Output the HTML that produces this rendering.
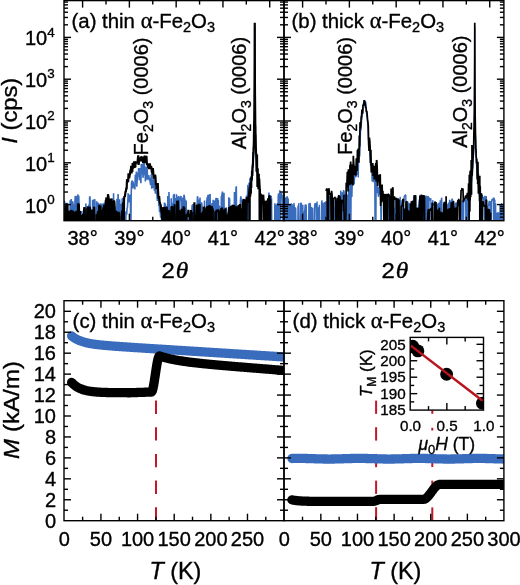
<!DOCTYPE html>
<html><head><meta charset="utf-8"><title>Figure</title>
<style>html,body{margin:0;padding:0;background:#fff;}svg{display:block;}</style>
</head><body>
<svg width="520" height="585" viewBox="0 0 520 585" font-family="'Liberation Sans', Arial, Helvetica, sans-serif">
<style>text{stroke:#000;stroke-width:0.35px;fill:#000;}</style>
<rect width="520" height="585" fill="#fff"/>
<defs>
<clipPath id="ca"><rect x="64" y="0.6" width="220" height="220.1"/></clipPath>
<clipPath id="cb"><rect x="284" y="0.6" width="219.9" height="220.1"/></clipPath>
<clipPath id="cc"><rect x="64" y="300.7" width="220" height="220"/></clipPath>
<clipPath id="cd"><rect x="284" y="300.7" width="219.9" height="220"/></clipPath>
<clipPath id="ci"><rect x="410.2" y="337.4" width="73.3" height="72.7"/></clipPath>
</defs>
<g clip-path="url(#ca)">
<polyline fill="none" stroke="#3a6cbe" stroke-width="1.6" stroke-linejoin="miter" stroke-miterlimit="2" points="61.55,208.1 61.92,210.91 62.3,206.9 62.67,240 63.05,240 63.42,208.97 63.79,208.2 64.17,200.76 64.54,201.56 64.92,206.91 65.29,240 65.67,202.92 66.04,240 66.41,240 66.79,202.88 67.16,213.32 67.54,214.27 67.91,240 68.29,240 68.66,240 69.03,209.9 69.41,211.73 69.78,240 70.16,200.33 70.53,240 70.91,240 71.28,198.96 71.65,240 72.03,240 72.4,240 72.78,201.33 73.15,206.61 73.52,206.39 73.9,204.18 74.27,240 74.65,240 75.02,199.29 75.4,195.87 75.77,240 76.14,240 76.52,200.17 76.89,196.02 77.27,240 77.64,196.92 78.02,194.48 78.39,240 78.76,195.82 79.14,210.57 79.51,240 79.89,240 80.26,240 80.64,211.38 81.01,213.98 81.38,216.59 81.76,211.05 82.13,240 82.51,213.87 82.88,240 83.25,215.88 83.63,240 84,240 84.38,213.87 84.75,214.07 85.13,240 85.5,240 85.87,203.46 86.25,240 86.62,240 87,240 87.37,205.97 87.75,240 88.12,207.17 88.49,240 88.87,204.59 89.24,240 89.62,196.48 89.99,197.01 90.37,240 90.74,240 91.11,213.19 91.49,240 91.86,213.45 92.24,240 92.61,199.81 92.99,240 93.36,200.53 93.73,200.35 94.11,240 94.48,199.3 94.86,199.99 95.23,240 95.6,240 95.98,240 96.35,240 96.73,201.38 97.1,240 97.48,202.71 97.85,203.22 98.22,204.35 98.6,204.14 98.97,205.09 99.35,240 99.72,204.47 100.1,240 100.47,203.44 100.84,204.69 101.22,205.75 101.59,205.87 101.97,240 102.34,203.54 102.72,240 103.09,240 103.46,240 103.84,204.71 104.21,202.8 104.59,240 104.96,240 105.34,240 105.71,240 106.08,240 106.46,210.44 106.83,240 107.21,240 107.58,240 107.95,208.79 108.33,240 108.7,240 109.08,240 109.45,209.57 109.83,240 110.2,211.98 110.57,240 110.95,205.86 111.32,240 111.7,210.37 112.07,212.09 112.45,209.31 112.82,240 113.19,240 113.57,193.38 113.94,240 114.32,240 114.69,206.86 115.07,240 115.44,240 115.81,240 116.19,240 116.56,240 116.94,198.74 117.31,240 117.69,240 118.06,194.03 118.43,201.89 118.81,201.72 119.18,240 119.56,199.38 119.93,204.99 120.3,240 120.68,203.96 121.05,240 121.43,204.65 121.8,240 122.18,199.73 122.55,197.94 122.92,238.97 123.3,240 123.67,232.18 124.05,232.34 124.42,223.75 124.8,226.61 125.17,222.49 125.54,240 125.92,211.57 126.29,211.81 126.67,214.6 127.04,208.41 127.42,207.6 127.79,201.18 128.16,193.31 128.54,199.22 128.91,201.64 129.29,201.92 129.66,195.75 130.03,194.92 130.41,198.3 130.78,240 131.16,196.24 131.53,182.97 131.91,181.85 132.28,180.48 132.65,188.47 133.03,181.71 133.4,184.49 133.78,185.05 134.15,183.87 134.53,188.59 134.9,188.61 135.27,174.83 135.65,179.82 136.02,176.75 136.4,171.52 136.77,186.77 137.15,180.66 137.52,174.53 137.89,172.75 138.27,176.73 138.64,168.1 139.02,172.44 139.39,180.33 139.77,178.33 140.14,167.93 140.51,169.64 140.89,183.12 141.26,164.04 141.64,168.22 142.01,163.74 142.38,173.67 142.76,173.08 143.13,177.86 143.51,156.57 143.88,172.36 144.26,162.17 144.63,175.25 145,170.66 145.38,181.49 145.75,174.2 146.13,166.49 146.5,179.74 146.88,166.54 147.25,171.14 147.62,179.53 148,176.78 148.37,176.97 148.75,175.06 149.12,178.39 149.5,180.63 149.87,178.17 150.24,182.98 150.62,185.15 150.99,178.63 151.37,173.94 151.74,188.71 152.12,180.61 152.49,185.24 152.86,188.01 153.24,178.29 153.61,187.21 153.99,176.5 154.36,190.77 154.73,185.08 155.11,189.7 155.48,193.64 155.86,187.81 156.23,192.85 156.61,190.56 156.98,194.99 157.35,200.91 157.73,198.12 158.1,199.04 158.48,197.21 158.85,205.86 159.23,204.47 159.6,211.97 159.97,206.06 160.35,213.57 160.72,217.79 161.1,214.94 161.47,214.25 161.85,240 162.22,225.78 162.59,240 162.97,232.76 163.34,233.54 163.72,240 164.09,240 164.47,202.42 164.84,240 165.21,203.64 165.59,206.51 165.96,240 166.34,240 166.71,206.1 167.08,240 167.46,240 167.83,196.02 168.21,240 168.58,240 168.96,192.06 169.33,212.01 169.7,213.07 170.08,240 170.45,240 170.83,240 171.2,198.26 171.58,240 171.95,202.77 172.32,205.24 172.7,240 173.07,240 173.45,194.87 173.82,240 174.2,193.82 174.57,240 174.94,240 175.32,240 175.69,197.94 176.07,240 176.44,194.27 176.81,196.76 177.19,197.72 177.56,240 177.94,240 178.31,240 178.69,196.11 179.06,200.11 179.43,240 179.81,200.05 180.18,200 180.56,197.28 180.93,196.11 181.31,200.2 181.68,201.48 182.05,240 182.43,240 182.8,197.45 183.18,240 183.55,240 183.93,194.69 184.3,196.14 184.67,199.4 185.05,200.28 185.42,240 185.8,201.84 186.17,200.39 186.55,240 186.92,240 187.29,240 187.67,216.57 188.04,240 188.42,240 188.79,215.04 189.16,214.38 189.54,218.01 189.91,213.58 190.29,240 190.66,240 191.04,210.67 191.41,240 191.78,211.8 192.16,205 192.53,205.58 192.91,204.26 193.28,240 193.66,240 194.03,204.15 194.4,240 194.78,205.34 195.15,240 195.53,213.18 195.9,240 196.28,240 196.65,209.19 197.02,208.98 197.4,197.23 197.77,196.42 198.15,240 198.52,240 198.9,199.43 199.27,202.96 199.64,240 200.02,197.45 200.39,240 200.77,240 201.14,203.04 201.51,202.46 201.89,204.69 202.26,209.58 202.64,240 203.01,207.44 203.39,240 203.76,240 204.13,240 204.51,200.58 204.88,240 205.26,240 205.63,240 206.01,240 206.38,240 206.75,202.39 207.13,197.27 207.5,240 207.88,195.02 208.25,195.61 208.63,240 209,197.41 209.37,240 209.75,194.32 210.12,194.62 210.5,240 210.87,203.48 211.25,204.93 211.62,203.54 211.99,206.35 212.37,203.13 212.74,240 213.12,199.85 213.49,240 213.86,203.23 214.24,200.48 214.61,240 214.99,240 215.36,204.36 215.74,200.4 216.11,197.85 216.48,240 216.86,200.93 217.23,240 217.61,198.11 217.98,205.38 218.36,199.92 218.73,240 219.1,240 219.48,205.86 219.85,240 220.23,208.7 220.6,240 220.98,240 221.35,196.8 221.72,195.75 222.1,193.78 222.47,191.59 222.85,240 223.22,195.74 223.59,240 223.97,192.82 224.34,240 224.72,240 225.09,211.15 225.47,209.49 225.84,209.5 226.21,207.42 226.59,210.62 226.96,240 227.34,214.66 227.71,240 228.09,214.06 228.46,240 228.83,197.15 229.21,240 229.58,198.26 229.96,240 230.33,240 230.71,240 231.08,210.01 231.45,214.21 231.83,240 232.2,240 232.58,209.97 232.95,240 233.33,207.81 233.7,240 234.07,240 234.45,192.06 234.82,240 235.2,240 235.57,240 235.94,188.57 236.32,186.31 236.69,240 237.07,210.98 237.44,240 237.82,207.51 238.19,211.02 238.56,240 238.94,210.2 239.31,209.3 239.69,240 240.06,240 240.44,201.17 240.81,196.3 241.18,199.44 241.56,201.86 241.93,200.88 242.31,199.75 242.68,201.79 243.06,240 243.43,209.79 243.8,208.17 244.18,209.41 244.55,240 244.93,199.49 245.3,240 245.68,199.59 246.05,198.83 246.42,195.88 246.8,240 247.17,199.58 247.55,194.09 247.92,184.73 248.29,240 248.67,191.2 249.04,187.47 249.14,182.52 249.28,240 249.42,190.18 249.42,184.47 249.56,186.59 249.7,185.41 249.79,189.6 249.84,179.99 249.98,178.07 250.12,182.09 250.17,181.41 250.26,183.91 250.4,183.36 250.54,182.79 250.54,182.79 250.68,182.17 250.82,181.52 250.91,181.06 250.96,180.82 251.1,180.08 251.24,179.29 251.29,179.01 251.38,178.44 251.52,177.54 251.66,176.57 251.66,176.57 251.8,175.53 251.94,174.41 252.04,173.62 252.08,173.21 252.22,171.92 252.36,173.58 252.41,173 252.5,171.8 252.65,169.91 252.79,167.87 252.79,167.87 252.93,165.68 253.07,163.29 253.16,161.59 253.21,160.69 253.35,157.82 253.49,154.62 253.53,153.46 253.63,151 253.77,146.83 253.91,141.93 253.91,141.93 254.05,135.59 254.19,128.29 254.28,122.16 254.33,118.57 254.47,104.51 254.61,80.41 254.66,66.88 254.75,26.72 254.75,26.72 254.89,80.41 255.03,104.51 255.03,104.51 255.17,118.57 255.31,128.29 255.41,133.36 255.45,135.59 255.59,141.36 255.73,146.08 255.78,147.48 255.87,150.06 256.01,153.48 256.15,157.27 256.15,157.27 256.29,160.05 256.43,162.56 256.53,164.1 256.57,164.84 256.72,166.93 256.86,168.86 256.9,169.46 257,170.64 257.14,172.29 257.28,173.84 257.28,173.84 257.42,175.28 257.56,176.63 257.65,177.48 257.7,177.89 257.84,179.08 257.98,180.2 258.03,180.56 258.12,181.25 258.26,182.24 258.4,183.18 258.4,183.18 258.54,184.06 258.68,183.21 258.77,183.7 258.82,183.93 258.96,184.61 259.1,185.25 259.15,185.45 259.24,185.85 259.38,183.56 259.52,187.41 259.52,185.54 259.66,187.06 259.8,185.56 259.9,192.68 259.94,188.44 260.08,192.04 260.22,192.73 260.27,192.85 260.64,240 261.02,197.28 261.39,198.59 261.77,198.1 262.14,203.46 262.52,195.74 262.89,197.22 263.26,201.24 263.64,202.94 264.01,199.6 264.39,240 264.76,240 265.14,240 265.51,205.84 265.88,203.27 266.26,206.63 266.63,240 267.01,240 267.38,199.69 267.76,208.21 268.13,240 268.5,240 268.88,192.5 269.25,196.94 269.63,195.52 270,240 270.37,196.75 270.75,196.76 271.12,195.75 271.5,199.37 271.87,240 272.25,240 272.62,240 272.99,240 273.37,240 273.74,240 274.12,240 274.49,240 274.87,203.38 275.24,240 275.61,240 275.99,204.59 276.36,205.89 276.74,240 277.11,240 277.49,203.04 277.86,240 278.23,196.37 278.61,193.39 278.98,240 279.36,240 279.73,190.19 280.11,240 280.48,196.51 280.85,195.65 281.23,194.8 281.6,192.96 281.98,196.54 282.35,203.06 282.72,240 283.1,240 283.47,195.34 283.85,240 284.22,194.93 284.6,193.9 284.97,240 285.34,240 285.72,240 286.09,240"/>
<polyline fill="none" stroke="#000" stroke-width="2.2" stroke-linejoin="miter" stroke-miterlimit="2" points="61.55,215.14 61.92,240 62.3,240 62.67,213.68 63.05,216.81 63.42,216.68 63.79,216.24 64.17,217 64.54,214.75 64.92,240 65.29,240 65.67,206.34 66.04,240 66.41,203.45 66.79,240 67.16,203.4 67.54,205.46 67.91,240 68.29,213.38 68.66,213.41 69.03,210.97 69.41,240 69.78,240 70.16,211.89 70.53,212.62 70.91,211.16 71.28,210.13 71.65,240 72.03,213.21 72.4,211.59 72.78,210.57 73.15,240 73.52,212.75 73.9,240 74.27,211.82 74.65,213.09 75.02,212.35 75.4,240 75.77,240 76.14,240 76.52,210.79 76.89,240 77.27,240 77.64,240 78.02,203.66 78.39,204.11 78.76,203.53 79.14,212.52 79.51,212.93 79.89,211.02 80.26,240 80.64,240 81.01,214.91 81.38,240 81.76,216.27 82.13,240 82.51,217.3 82.88,240 83.25,240 83.63,240 84,210.31 84.38,207.2 84.75,209.17 85.13,240 85.5,240 85.87,216.03 86.25,217.52 86.62,214.07 87,216.83 87.37,207.72 87.75,240 88.12,206.53 88.49,240 88.87,206.94 89.24,240 89.62,206.83 89.99,208.74 90.37,212.33 90.74,240 91.11,211.64 91.49,211.85 91.86,209.68 92.24,211.59 92.61,212.79 92.99,240 93.36,240 93.73,240 94.11,206.74 94.48,240 94.86,240 95.23,240 95.6,240 95.98,240 96.35,240 96.73,214.03 97.1,240 97.48,240 97.85,212.23 98.22,211.63 98.6,213.19 98.97,211.33 99.35,204.73 99.72,240 100.1,240 100.47,205.68 100.84,240 101.22,212.63 101.59,240 101.97,240 102.34,209.99 102.72,240 103.09,210.65 103.46,207.41 103.84,240 104.21,204.82 104.59,240 104.96,240 105.34,240 105.71,201.09 106.08,200.38 106.46,197.48 106.83,240 107.21,240 107.58,240 107.95,194.28 108.33,196.12 108.7,198.33 109.08,200.94 109.45,199.28 109.83,240 110.2,201.69 110.57,198.86 110.95,202.98 111.32,205.16 111.7,198.43 112.07,240 112.45,240 112.82,240 113.19,240 113.57,202.2 113.94,201.24 114.32,201.46 114.69,207.25 115.07,240 115.44,240 115.81,210.41 116.19,240 116.56,211.33 116.94,240 117.31,214.02 117.69,240 118.06,240 118.43,212.3 118.81,212.69 119.18,240 119.56,240 119.93,240 120.3,226.23 120.68,240 121.05,240 121.43,216.63 121.8,213.31 122.18,210.53 122.55,240 122.92,203.43 123.3,202.82 123.67,240 124.05,199.35 124.42,196.1 124.8,196.96 125.17,194.34 125.54,191.55 125.92,191.26 126.29,188.49 126.67,188.39 127.04,179.31 127.42,179.84 127.79,181.01 128.16,181.13 128.54,173.33 128.91,177.51 129.29,177.5 129.66,175.21 130.03,174.08 130.41,169.8 130.78,172.91 131.16,165.76 131.53,173.46 131.91,167.96 132.28,171.99 132.65,162.96 133.03,168.38 133.4,166.81 133.78,163.22 134.15,161.55 134.53,167.75 134.9,164.89 135.27,167.34 135.65,162.32 136.02,162.48 136.4,162.7 136.77,163.21 137.15,161.91 137.52,162.56 137.89,158.49 138.27,155.3 138.64,165.01 139.02,159.48 139.39,160.13 139.77,157.29 140.14,161.32 140.51,158.85 140.89,161.35 141.26,156.24 141.64,157.95 142.01,158.71 142.38,157.2 142.76,159.07 143.13,162.97 143.51,156.86 143.88,157.93 144.26,159.41 144.63,156.34 145,155.94 145.38,162.95 145.75,162.39 146.13,156 146.5,156.77 146.88,163.48 147.25,165.24 147.62,164.17 148,164.3 148.37,168.03 148.75,163.95 149.12,168.41 149.5,168.88 149.87,163.42 150.24,168.82 150.62,167.83 150.99,166.61 151.37,166.94 151.74,171.17 152.12,171 152.49,174.49 152.86,168.03 153.24,172.26 153.61,178.44 153.99,176.35 154.36,175.46 154.73,177.35 155.11,174.69 155.48,177.31 155.86,184.21 156.23,184.3 156.61,189.21 156.98,186.26 157.35,188.12 157.73,183.06 158.1,191.59 158.48,198.48 158.85,196.88 159.23,197.05 159.6,201.77 159.97,203 160.35,204.21 160.72,205.31 161.1,208.63 161.47,212.38 161.85,212.75 162.22,217.77 162.59,240 162.97,240 163.34,207.04 163.72,240 164.09,210.69 164.47,210.35 164.84,206.96 165.21,240 165.59,207.64 165.96,209.03 166.34,240 166.71,206.76 167.08,240 167.46,240 167.83,240 168.21,240 168.58,210.1 168.96,211.55 169.33,240 169.7,240 170.08,212.04 170.45,240 170.83,240 171.2,213.4 171.58,206.91 171.95,206.52 172.32,209.04 172.7,240 173.07,240 173.45,208.54 173.82,206.91 174.2,240 174.57,204.33 174.94,240 175.32,240 175.69,240 176.07,240 176.44,240 176.81,240 177.19,200.68 177.56,240 177.94,200.47 178.31,212.27 178.69,210.11 179.06,240 179.43,210.99 179.81,240 180.18,211.31 180.56,210.31 180.93,240 181.31,240 181.68,208.81 182.05,240 182.43,209.24 182.8,240 183.18,240 183.55,206.34 183.93,208.5 184.3,207.82 184.67,240 185.05,240 185.42,216.93 185.8,240 186.17,240 186.55,215.6 186.92,215.68 187.29,216.37 187.67,212.79 188.04,213.17 188.42,209.84 188.79,217.06 189.16,214.09 189.54,215.07 189.91,216.05 190.29,240 190.66,240 191.04,209.96 191.41,240 191.78,212.03 192.16,240 192.53,240 192.91,240 193.28,240 193.66,240 194.03,240 194.4,202.25 194.78,240 195.15,240 195.53,215.74 195.9,215.75 196.28,240 196.65,240 197.02,204.4 197.4,240 197.77,240 198.15,215.64 198.52,214.51 198.9,240 199.27,204.67 199.64,204.28 200.02,240 200.39,240 200.77,240 201.14,213.04 201.51,240 201.89,240 202.26,240 202.64,212.39 203.01,211.83 203.39,240 203.76,206.9 204.13,207.36 204.51,240 204.88,208.22 205.26,240 205.63,209.25 206.01,240 206.38,240 206.75,208.05 207.13,206.42 207.5,206.9 207.88,210.5 208.25,240 208.63,240 209,240 209.37,205.01 209.75,208.11 210.12,240 210.5,240 210.87,207.19 211.25,240 211.62,206.2 211.99,208.54 212.37,240 212.74,208.47 213.12,240 213.49,240 213.86,240 214.24,240 214.61,240 214.99,240 215.36,211.36 215.74,240 216.11,212.62 216.48,210.78 216.86,210.62 217.23,210.66 217.61,210.74 217.98,209.63 218.36,210.68 218.73,210.28 219.1,240 219.48,240 219.85,240 220.23,240 220.6,240 220.98,211.36 221.35,208.24 221.72,240 222.1,207.59 222.47,240 222.85,210.44 223.22,212.47 223.59,209.41 223.97,240 224.34,211.11 224.72,240 225.09,240 225.47,208.19 225.84,240 226.21,240 226.59,214.54 226.96,240 227.34,214.55 227.71,215.17 228.09,240 228.46,212.15 228.83,213.41 229.21,207.03 229.58,208.39 229.96,208.13 230.33,240 230.71,205.77 231.08,207.31 231.45,240 231.83,240 232.2,240 232.58,204.79 232.95,206.98 233.33,240 233.7,206.99 234.07,205.11 234.45,214.07 234.82,240 235.2,214.26 235.57,214.17 235.94,240 236.32,206.2 236.69,240 237.07,207.75 237.44,240 237.82,206.41 238.19,240 238.56,205.19 238.94,205.58 239.31,240 239.69,240 240.06,203.9 240.44,240 240.81,240 241.18,240 241.56,208.46 241.93,209 242.31,240 242.68,201.97 243.06,205.02 243.43,200.38 243.8,199.01 244.18,240 244.55,240 244.93,207.46 245.3,205.15 245.68,205.43 246.05,199.93 246.42,240 246.8,198.98 247.17,197.23 247.55,202.92 247.92,197.85 248.29,198.82 248.67,195.72 249.04,195.67 249.14,191.41 249.28,195.76 249.42,188.31 249.42,191.64 249.56,240 249.7,192.19 249.79,193.49 249.84,186.41 249.98,191.56 250.12,187.68 250.17,191.15 250.26,196.54 250.4,182.65 250.54,192.45 250.54,182.99 250.68,183.45 250.82,193.77 250.91,189.22 250.96,186.52 251.1,187.12 251.24,187.95 251.29,177.1 251.38,181.64 251.52,176.99 251.66,180.13 251.66,176.12 251.8,180.5 251.94,175.1 252.04,170.78 252.08,173.18 252.22,174.3 252.36,176.01 252.41,168.58 252.5,166.39 252.65,167.72 252.79,163.95 252.79,165.16 252.93,165.08 253.07,158.44 253.16,158.59 253.21,153.95 253.35,154.02 253.49,151.63 253.53,149.11 253.63,147.5 253.77,144.77 253.91,139.08 253.91,135.74 254.05,130.1 254.19,120.79 254.28,123.23 254.33,115.83 254.47,101.75 254.61,75.88 254.66,64.16 254.75,22.67 254.75,22.67 254.89,75.86 255.03,103.93 255.03,96.67 255.17,111.79 255.31,126.2 255.41,127.28 255.45,134.11 255.59,134.64 255.73,143.46 255.78,146.62 255.87,148.09 256.01,152.86 256.15,153.3 256.15,153.35 256.29,156.64 256.43,160.98 256.53,171.62 256.57,161.49 256.72,169.48 256.86,170.22 256.9,163.73 257,154.43 257.14,171.38 257.28,169.58 257.28,169.36 257.42,186.98 257.56,173.82 257.65,179.29 257.7,168.37 257.84,178.63 257.98,182.75 258.03,180.11 258.12,178.81 258.26,183.91 258.4,182.23 258.4,189.32 258.54,184.21 258.68,179.75 258.77,173.88 258.82,181.07 258.96,184.33 259.1,180.23 259.15,181.4 259.24,178.44 259.38,182.39 259.52,189.68 259.52,187.63 259.66,240 259.8,188.8 259.9,189.8 259.94,195.37 260.08,203.2 260.22,196.01 260.27,203.58 260.64,193.67 261.02,195.35 261.39,240 261.77,198.19 262.14,200.9 262.52,196.08 262.89,196.48 263.26,194.81 263.64,202.74 264.01,205.46 264.39,240 264.76,240 265.14,202.08 265.51,201.92 265.88,240 266.26,201.62 266.63,201.96 267.01,202.69 267.38,240 267.76,240 268.13,198.35 268.5,240 268.88,240 269.25,195.63 269.63,196.13 270,240 270.37,199.19"/>
</g>
<g clip-path="url(#cb)">
<polyline fill="none" stroke="#3a6cbe" stroke-width="1.4" stroke-linejoin="miter" stroke-miterlimit="2" points="281.55,240 281.92,240 282.3,240 282.67,240 283.05,240 283.42,240 283.79,197.81 284.17,240 284.54,240 284.92,240 285.29,240 285.67,197.49 286.04,240 286.41,196.68 286.79,240 287.16,196.36 287.54,197.9 287.91,240 288.29,198.56 288.66,240 289.03,240 289.41,240 289.78,205 290.16,240 290.53,205 290.91,240 291.28,203.33 291.65,240 292.03,204.21 292.4,206.25 292.78,205.12 293.15,240 293.52,240 293.9,202.96 294.27,205.84 294.65,240 295.02,209.3 295.4,207.36 295.77,208.73 296.14,240 296.52,240 296.89,240 297.27,240 297.64,240 298.02,205.39 298.39,240 298.76,203.01 299.14,240 299.51,240 299.89,240 300.26,240 300.64,202.83 301.01,203.95 301.38,203.76 301.76,240 302.13,240 302.51,204.98 302.88,205.31 303.25,240 303.63,211.81 304,240 304.38,212.25 304.75,210.26 305.13,205.06 305.5,205.01 305.87,240 306.25,204.75 306.62,240 307,240 307.37,240 307.75,240 308.12,240 308.49,240 308.87,204 309.24,204.08 309.62,240 309.99,202.83 310.37,204.3 310.74,240 311.11,207.83 311.49,207.69 311.86,240 312.24,240 312.61,207.72 312.99,240 313.36,240 313.73,240 314.11,240 314.48,208.63 314.86,203.34 315.23,204.24 315.6,204.57 315.98,203.2 316.35,240 316.73,205.21 317.1,201.61 317.48,240 317.85,240 318.22,240 318.6,207.06 318.97,240 319.35,204.76 319.72,240 320.1,240 320.47,240 320.84,240 321.22,240 321.59,202.51 321.97,200.35 322.34,240 322.72,202.84 323.09,240 323.46,240 323.84,240 324.21,202.17 324.59,240 324.96,202.03 325.34,240 325.71,201.31 326.08,240 326.46,201.95 326.83,203.41 327.21,240 327.58,195.18 327.95,195.81 328.33,240 328.7,196.19 329.08,240 329.45,240 329.83,195.57 330.2,201.18 330.57,201.81 330.95,200.06 331.32,200.9 331.7,240 332.07,201.47 332.45,200.99 332.82,202.17 333.19,206.42 333.57,207.86 333.94,240 334.32,206.61 334.69,240 335.07,200.45 335.44,199.12 335.81,240 336.19,199.36 336.56,240 336.94,240 337.31,205.35 337.69,204.12 338.06,207.5 338.43,204.46 338.81,206.48 339.18,202.94 339.56,240 339.93,240 340.3,240 340.68,190.59 341.05,194.18 341.43,192.24 341.8,240 342.18,194.44 342.55,192.36 342.92,240 343.3,191.82 343.67,190.09 344.05,191.69 344.42,195.99 344.8,196.26 345.17,194.94 345.54,240 345.92,194.28 346.29,194.19 346.67,197.57 347.04,200.54 347.42,194.5 347.79,240 348.16,240 348.54,189.22 348.91,240 349.29,193.77 349.66,198.39 350.03,176.73 350.41,187.4 350.78,240 351.16,190.37 351.53,180.32 351.91,196.99 352.28,184.77 352.65,170.86 353.03,184.32 353.4,181.47 353.78,177.18 354.15,184.49 354.53,179.13 354.9,173.15 355.27,176.39 355.65,174.41 356.02,177.21 356.4,174.14 356.77,173.95 357.15,164.45 357.52,166.17 357.89,168.7 358.27,177.39 358.64,156.25 359.02,151.55 359.39,155.73 359.77,156.42 360.14,146.43 360.51,129.91 360.89,130.72 361.26,126.33 361.64,119.78 362.01,118.86 362.38,113.83 362.76,110.3 363.13,103.69 363.51,104.11 363.88,103.89 364.26,101.28 364.63,101.54 365,100.35 365.38,103.3 365.75,101.78 366.13,105.53 366.5,112.33 366.88,116.83 367.25,117.23 367.62,122.58 368,128.96 368.37,139.54 368.75,141.49 369.12,143.01 369.5,142.79 369.87,154.57 370.24,159.62 370.62,166.13 370.99,157.72 371.37,163.68 371.74,172.37 372.12,181.42 372.49,179.78 372.86,173.76 373.24,182.13 373.61,174.51 373.99,178.48 374.36,179.87 374.73,178.85 375.11,240 375.48,188.82 375.86,240 376.23,172.99 376.61,193.04 376.98,189.73 377.35,182 377.73,189.3 378.1,193.45 378.48,196.8 378.85,187.22 379.23,188.37 379.6,186.9 379.97,194.79 380.35,189.94 380.72,201.78 381.1,240 381.47,200.84 381.85,196.67 382.22,193.97 382.59,192.67 382.97,199.46 383.34,198.83 383.72,196.67 384.09,200.26 384.47,198.86 384.84,240 385.21,196.36 385.59,196.05 385.96,197.12 386.34,198.71 386.71,240 387.08,197.05 387.46,199.11 387.83,197.55 388.21,196.59 388.58,240 388.96,240 389.33,199.92 389.7,200.87 390.08,240 390.45,240 390.83,240 391.2,200.54 391.58,206.74 391.95,205.43 392.32,240 392.7,240 393.07,205.87 393.45,240 393.82,240 394.2,207.71 394.57,240 394.94,240 395.32,200.58 395.69,201.16 396.07,240 396.44,201.84 396.81,200.33 397.19,201.28 397.56,240 397.94,240 398.31,198.47 398.69,240 399.06,199.01 399.43,199.35 399.81,240 400.18,196.75 400.56,240 400.93,200.36 401.31,240 401.68,240 402.05,240 402.43,202.82 402.8,240 403.18,201.95 403.55,201.57 403.93,201.65 404.3,195.67 404.67,195.92 405.05,195.6 405.42,195.05 405.8,195.31 406.17,240 406.55,240 406.92,240 407.29,240 407.67,240 408.04,201.84 408.42,240 408.79,203.2 409.16,240 409.54,203.4 409.91,204.26 410.29,240 410.66,205.68 411.04,240 411.41,240 411.78,207.04 412.16,240 412.53,203.95 412.91,240 413.28,240 413.66,196.8 414.03,195.91 414.4,195.9 414.78,240 415.15,196.21 415.53,240 415.9,195.84 416.28,240 416.65,207.85 417.02,209.1 417.4,240 417.77,240 418.15,240 418.52,205.15 418.9,203.64 419.27,199.46 419.64,200.74 420.02,240 420.39,200.5 420.77,240 421.14,240 421.51,240 421.89,205.51 422.26,240 422.64,203 423.01,204.51 423.39,203.74 423.76,240 424.13,201.95 424.51,203 424.88,240 425.26,198.02 425.63,197.8 426.01,195.6 426.38,240 426.75,240 427.13,196.38 427.5,240 427.88,195.95 428.25,196.71 428.63,240 429,197.42 429.37,199.35 429.75,200.58 430.12,198.92 430.5,198.75 430.87,198.97 431.25,240 431.62,240 431.99,202.62 432.37,240 432.74,200.19 433.12,204.03 433.49,204.42 433.86,205.53 434.24,204.68 434.61,203.48 434.99,202.72 435.36,204.77 435.74,240 436.11,240 436.48,205.04 436.86,240 437.23,204.11 437.61,240 437.98,203.17 438.36,240 438.73,205.6 439.1,202.6 439.48,204.44 439.85,240 440.23,200.32 440.6,201.52 440.98,240 441.35,199.01 441.72,197.83 442.1,210.14 442.47,240 442.85,212.09 443.22,212.37 443.59,240 443.97,212.66 444.34,212.09 444.72,214.36 445.09,240 445.47,211.8 445.84,201.48 446.21,240 446.59,204.52 446.96,240 447.34,205.25 447.71,204.6 448.09,205.87 448.46,202.51 448.83,240 449.21,240 449.58,199.81 449.96,240 450.33,240 450.71,240 451.08,200.54 451.45,240 451.83,199.53 452.2,198.66 452.58,200.42 452.95,208.82 453.33,206.46 453.7,240 454.07,240 454.45,207.23 454.82,206.52 455.2,205.56 455.57,202.65 455.94,240 456.32,240 456.69,203.91 457.07,202.44 457.44,240 457.82,240 458.19,240 458.56,240 458.94,240 459.31,240 459.69,240 460.06,240 460.44,240 460.81,240 461.18,240 461.56,201.29 461.93,203.25 462.31,200.29 462.68,202.47 463.06,240 463.43,240 463.8,197.6 464.18,198.98 464.55,201.01 464.93,199.65 465.3,199.95 465.68,201.82 466.05,240 466.42,194.39 466.8,240 467.17,193.21 467.55,194.51 467.92,194.2 468.29,240 468.67,196.61 469.04,189.42 469.14,198.55 469.28,201 469.42,195.77 469.42,202.8 469.56,194.21 469.7,192.03 469.79,194.26 469.84,190.03 469.98,193.98 470.12,191.52 470.17,199.14 470.26,190.79 470.4,190 470.54,189.18 470.54,189.18 470.68,188.31 470.82,187.4 470.91,186.77 470.96,186.44 471.1,185.44 471.24,184.38 471.29,184.02 471.38,183.27 471.52,182.1 471.66,180.86 471.66,180.86 471.8,179.56 471.94,178.18 472.04,177.21 472.08,176.71 472.22,175.16 472.36,173.5 472.41,172.93 472.5,171.74 472.65,169.85 472.79,166.99 472.79,166.99 472.93,164.89 473.07,162.6 473.16,160.95 473.21,160.09 473.35,157.3 473.49,154.18 473.53,153.06 473.63,150.64 473.77,146.55 473.91,141.71 473.91,141.71 474.05,135.84 474.19,128.46 474.28,122.28 474.33,118.67 474.47,104.56 474.61,80.42 474.66,66.89 474.75,26.72 474.75,26.72 474.89,80.42 475.03,104.56 475.03,104.56 475.17,118.67 475.31,128.46 475.41,133.58 475.45,135.84 475.59,141.71 475.73,146.55 475.78,147.98 475.87,150.64 476.01,154.19 476.15,157.31 476.15,157.31 476.29,160.09 476.43,162.6 476.53,164.15 476.57,164.89 476.72,166.99 476.86,168.92 476.9,169.54 477,170.72 477.14,172.38 477.28,173.93 477.28,173.93 477.42,175.38 477.56,176.74 477.65,177.59 477.7,178.01 477.84,179.21 477.98,181.36 478.03,181.74 478.12,182.48 478.26,183.54 478.4,184.55 478.4,184.55 478.54,185.51 478.68,186.41 478.77,186.99 478.82,187.28 478.96,188.09 479.1,188.87 479.15,189.12 479.24,189.61 479.38,194.94 479.52,189.48 479.52,196.37 479.66,187.68 479.8,195.11 479.9,187.41 479.94,185.41 480.08,204.45 480.22,192.32 480.27,197.89 480.64,203.06 481.02,199.89 481.39,193.32 481.77,196.65 482.14,194.85 482.52,196.79 482.89,197.87 483.26,197.83 483.64,200.62 484.01,200.24 484.39,240 484.76,195.86 485.14,240 485.51,197.23 485.88,240 486.26,195.91 486.63,203.99 487.01,240 487.38,205.78 487.76,240 488.13,205.4 488.5,206.26 488.88,202.94 489.25,200.76 489.63,202.87 490,203.79 490.37,240 490.75,201.05 491.12,240 491.5,201.88 491.87,199.67 492.25,199.79 492.62,200.05 492.99,199.55 493.37,197.57 493.74,240 494.12,197.88 494.49,200.62 494.87,199.88 495.24,240 495.61,203.24 495.99,240 496.36,240 496.74,240 497.11,212.76 497.49,240 497.86,212.06 498.23,240 498.61,240 498.98,212.48 499.36,240 499.73,240 500.11,204.57 500.48,240 500.85,205.05 501.23,240 501.6,203.13 501.98,205.4 502.35,206.25 502.72,240 503.1,205.63 503.47,240 503.85,240 504.22,205.37 504.6,203.71 504.97,205.27 505.34,203.14 505.72,240 506.09,240"/>
<polyline fill="none" stroke="#000" stroke-width="1.7" stroke-linejoin="miter" stroke-miterlimit="2" points="325.99,189.5 326.36,190.76 326.74,188.51 327.11,189.94 327.49,240 327.86,189.6 328.24,240 328.61,188.63 328.98,188.85 329.36,192.84 329.73,193.36 330.11,194.57 330.48,193.92 330.86,192.88 331.23,240 331.6,190.8 331.98,193.71 332.35,199.71 332.73,197.94 333.1,240 333.47,198.84 333.85,198.91 334.22,198.15 334.6,197.61 334.97,197.55 335.35,198.47 335.72,197.59 336.09,240 336.47,240 336.84,200.72 337.22,240 337.59,198.06 337.97,240 338.34,196.72 338.71,195.75 339.09,195.88 339.46,240 339.84,196.12 340.21,200.67 340.59,202.97 340.96,240 341.33,199.88 341.71,200.91 342.08,203.31 342.46,200.16 342.83,200.68 343.21,199.98 343.58,211.57 343.95,194.83 344.33,240 344.7,240 345.08,240 345.45,240 345.82,240 346.2,182.85 346.57,187.08 346.95,182.94 347.32,171.95 347.7,172.36 348.07,191.48 348.44,169.26 348.82,173.22 349.19,176.44 349.57,185.31 349.94,165.67 350.32,165.58 350.69,161.58 351.06,184.48 351.44,177.72 351.81,164.2 352.19,180.95 352.56,176.68 352.94,185.47 353.31,155.69 353.68,162.36 354.06,167.54 354.43,169.68 354.81,174.92 355.18,174.56 355.55,165.73 355.93,175.6 356.3,158.3 356.68,170.34 357.05,170.88 357.43,150.02 357.8,158.21 358.17,148.52 358.55,152.18 358.92,162.75 359.3,135.43 359.67,146.48 360.05,122.36 360.42,128.73 360.79,125.63 361.17,116.73 361.54,116.58 361.92,109.54 362.29,111.19 362.67,113.6 363.04,104.74 363.41,105.87 363.79,104.54 364.16,100.07 364.54,104.05 364.91,101.49 365.29,105.08 365.66,108.26 366.03,107.42 366.41,112.12 366.78,110.76 367.16,114.31 367.53,119.54 367.9,122.03 368.28,126 368.65,144.02 369.03,150.91 369.4,137.64 369.78,140.88 370.15,147.89 370.52,162.92 370.9,149.69 371.27,172.44 371.65,167.28 372.02,172.37 372.4,171.68 372.77,162.98 373.14,175.96 373.52,166.6 373.89,165.66 374.27,179.49 374.64,174.95 375.02,168.47 375.39,170.18 375.76,162.96 376.14,181.55 376.51,160.35 376.89,160.8 377.26,169.08 377.64,185.87 378.01,176.04 378.38,182.12 378.76,174.83 379.13,181.91 379.51,176.95 379.88,188.03 380.25,174.14 380.63,206.02 381,196.57 381.38,185.17 381.75,202.28 382.13,184.56 382.5,201.05 382.87,190.82 383.25,199.48 383.62,195.99 384,240 384.37,193.92 384.75,196.49 385.12,240 385.49,240 385.87,194.12 386.24,194.71 386.62,240 386.99,240 387.37,194.96 387.74,194.51 388.11,194.42 388.49,196.95 388.86,194.25 389.24,195.55 389.61,240 389.99,197.58 390.36,195.99 390.73,240 391.11,188.47 391.48,240 391.86,240 392.23,240 392.6,188.09 392.98,187.46 393.35,240 393.73,197.66 394.1,197.16 394.48,197.05 394.85,199.82 395.22,199.2 395.6,199.75 395.97,198.87 396.35,197.69 396.72,240 397.1,200.27 397.47,199.66 397.84,198.51 398.22,200.07 398.59,240 398.97,199.47 399.34,240 399.72,240 400.09,240 400.46,240 400.84,240 401.21,206.49 401.59,206.44 401.96,205.77 402.33,206.03 402.71,200.41 403.08,198.99 403.46,199.49 403.83,240 404.21,210.68 404.58,208.68 404.95,210.58 405.33,209.18 405.7,240 406.08,201.54 406.45,240 406.83,201.1 407.2,211.59 407.57,211.77 407.95,240 408.32,210.34 408.7,240 409.07,211.42 409.45,211.71 409.82,212.56 410.19,240 410.57,203.63 410.94,240 411.32,201.22 411.69,202.93 412.07,240 412.44,200.74 412.81,202.58 413.19,240 413.56,240 413.94,240 414.31,195.34 414.68,240 415.06,240 415.43,195.08 415.81,240 416.18,207.87 416.56,209.46 416.93,240 417.3,208.11 417.68,240 418.05,207.48 418.43,208.57 418.8,240 419.18,240 419.55,208.67 419.92,195.44 420.3,195.97 420.67,240 421.05,240 421.42,194.62 421.8,240 422.17,240 422.54,240 422.92,196.49 423.29,195.36 423.67,196.58 424.04,195.6 424.42,196.64 424.79,240 425.16,240 425.54,240 425.91,240 426.29,240 426.66,240 427.03,240 427.41,240 427.78,214.8 428.16,210.22 428.53,210.27 428.91,240 429.28,209.94 429.65,210.14 430.03,210.56 430.4,209.31 430.78,208.95 431.15,210.49 431.53,209.88 431.9,240 432.27,203.05 432.65,203.44 433.02,240 433.4,240 433.77,240 434.15,240 434.52,240 434.89,201.49 435.27,203.24 435.64,203.01 436.02,201.95 436.39,240 436.77,209.22 437.14,240 437.51,240 437.89,240 438.26,210.83 438.64,209.99 439.01,211.18 439.38,207.69 439.76,240 440.13,212.84 440.51,213.59 440.88,240 441.26,212.79 441.63,212.99 442,213.06 442.38,214.54 442.75,240 443.13,240 443.5,240 443.88,203.82 444.25,202.53 444.62,202.01 445,240 445.37,240 445.75,240 446.12,196.31 446.5,240 446.87,240 447.24,240 447.62,209.62 447.99,210.19 448.37,208.97 448.74,240 449.11,240 449.49,208.21 449.86,208.88 450.24,240 450.61,208.65 450.99,208.41 451.36,202.41 451.73,203.19 452.11,240 452.48,202.49 452.86,240 453.23,200.99 453.61,201.95 453.98,240 454.35,209.13 454.73,208.6 455.1,240 455.48,208 455.85,208.24 456.23,240 456.6,207.25 456.97,240 457.35,207.83 457.72,201.52 458.1,200.06 458.47,201.56 458.85,199.84 459.22,200.12 459.59,240 459.97,240 460.34,200.93 460.72,201.41 461.09,190.08 461.46,190.57 461.84,189.18 462.21,189.52 462.59,188.88 462.96,188.5 463.34,202.21 463.71,198.67 464.08,200.42 464.46,198.18 464.83,198.86 465.21,197.48 465.58,195.73 465.96,198.48 466.33,195.94 466.7,195.65 467.08,197.08 467.45,193.42 467.83,193.32 468.2,200.41 468.58,183.9 468.95,183.64 469.14,240 469.28,174.64 469.32,196.74 469.42,180.07 469.56,178.88 469.7,187.62 469.7,185.62 469.84,211.56 469.98,191.1 470.07,171.37 470.12,200.35 470.26,189.45 470.4,182 470.45,179.4 470.54,170.26 470.68,197.2 470.82,181.6 470.82,174.93 470.96,187.4 471.1,176.26 471.2,160.02 471.24,164.39 471.38,169.9 471.52,194.76 471.57,174.15 471.66,169.28 471.8,173.92 471.94,170.83 471.94,145.1 472.08,170.85 472.22,175.73 472.32,164.91 472.36,169 472.5,167.45 472.65,164 472.69,161.28 472.79,161.13 472.93,157.92 473.07,154.62 473.07,157.9 473.21,154.62 473.35,152.52 473.44,151.33 473.49,149.45 473.63,148.46 473.77,140.4 473.81,136.83 473.91,133.58 474.05,128.75 474.19,126.33 474.19,120.92 474.33,116.07 474.47,100.64 474.56,82.3 474.61,78.7 474.75,22.67 474.75,22.67 474.89,76.7 474.94,88.23 475.03,99.6 475.17,115.65 475.31,122.17 475.31,121.78 475.45,134.86 475.59,138.85 475.69,141.78 475.73,145.18 475.87,149.17 476.01,150.11 476.06,151.85 476.15,157.06 476.29,157.45 476.43,157.69 476.43,161.45 476.57,163.16 476.72,159.83 476.81,161.75 476.86,158.94 477,165.94 477.14,179.48 477.18,171.32 477.28,167.46 477.42,176.73 477.56,165.01 477.56,168.05 477.7,183.9 477.84,174.52 477.93,161.77 477.98,165.65 478.12,180.05 478.26,173.39 478.31,186.59 478.4,193.63 478.54,178.3 478.68,181.8 478.68,179.61 478.82,183.02 478.96,180.96 479.05,188.32 479.1,180.51 479.24,178.3 479.38,186.27 479.43,179.36 479.52,200.91 479.66,193.49 479.8,175.86 479.8,240 479.94,186.18 480.08,189.61 480.18,199.47 480.22,186.31 480.55,240 480.93,203.65 481.3,193.33 481.67,195.11 482.05,240 482.42,201.24 482.8,202.7 483.17,201.25 483.55,205.37 483.92,206.45 484.29,205.48 484.67,205.82 485.04,206.27 485.42,206.2 485.79,240 486.16,199.74 486.54,200.19 486.91,240 487.29,208.82 487.66,240 488.04,209.94 488.41,208.95 488.78,210.25 489.16,209.21 489.53,210.5 489.91,240 490.28,240 490.66,212.77"/>
</g>
<line x1="156" y1="507.2" x2="156" y2="520.6" stroke="#c0192b" stroke-width="2.0"/>
<line x1="156" y1="480.6" x2="156" y2="493.9" stroke="#c0192b" stroke-width="2.0"/>
<line x1="156" y1="453.9" x2="156" y2="467.2" stroke="#c0192b" stroke-width="2.0"/>
<line x1="156" y1="427.2" x2="156" y2="440.6" stroke="#c0192b" stroke-width="2.0"/>
<line x1="156" y1="400.6" x2="156" y2="413.9" stroke="#c0192b" stroke-width="2.0"/>
<line x1="156" y1="373.9" x2="156" y2="387.2" stroke="#c0192b" stroke-width="2.0"/>
<line x1="156" y1="347.2" x2="156" y2="358" stroke="#c0192b" stroke-width="2.0"/>
<line x1="376.1" y1="507.2" x2="376.1" y2="520.6" stroke="#c0192b" stroke-width="2.0"/>
<line x1="376.1" y1="480.6" x2="376.1" y2="493.9" stroke="#c0192b" stroke-width="2.0"/>
<line x1="376.1" y1="453.9" x2="376.1" y2="467.2" stroke="#c0192b" stroke-width="2.0"/>
<line x1="376.1" y1="427.2" x2="376.1" y2="440.6" stroke="#c0192b" stroke-width="2.0"/>
<line x1="376.1" y1="400.6" x2="376.1" y2="413.9" stroke="#c0192b" stroke-width="2.0"/>
<line x1="432.3" y1="507.4" x2="432.3" y2="520.6" stroke="#c0192b" stroke-width="2.0"/>
<line x1="432.3" y1="480.6" x2="432.3" y2="493.9" stroke="#c0192b" stroke-width="2.0"/>
<line x1="432.3" y1="455" x2="432.3" y2="467" stroke="#c0192b" stroke-width="2.0"/>
<line x1="432.3" y1="427.8" x2="432.3" y2="430.5" stroke="#c0192b" stroke-width="2.0"/>
<line x1="432.3" y1="410.5" x2="432.3" y2="413.8" stroke="#c0192b" stroke-width="2.0"/>
<g clip-path="url(#cc)">
<polyline fill="none" stroke="#3a6cbe" stroke-width="9.3" stroke-linecap="round" stroke-linejoin="round" points="71.63,335.98 72.36,336.55 73.09,337.09 73.83,337.59 74.56,338.06 75.29,338.5 76.02,338.91 76.76,339.3 77.49,339.66 78.22,340.01 78.95,340.33 79.69,340.63 80.42,340.91 81.15,341.18 81.88,341.44 82.62,341.68 83.35,341.9 84.08,342.11 84.82,342.32 85.55,342.51 86.28,342.69 87.01,342.86 87.75,343.02 88.48,343.18 89.21,343.33 89.94,343.47 90.68,343.6 91.41,343.73 92.14,343.85 92.88,343.97 93.61,344.08 94.34,344.19 95.07,344.29 95.81,344.39 96.54,344.49 97.27,344.58 98,344.67 98.74,344.75 99.47,344.84 100.2,344.92 100.94,345 101.67,345.07 102.4,345.15 103.13,345.22 103.87,345.29 104.6,345.36 105.33,345.42 106.06,345.49 106.8,345.55 107.53,345.62 108.26,345.68 108.99,345.74 109.73,345.8 110.46,345.86 111.19,345.92 111.93,345.97 112.66,346.03 113.39,346.09 114.12,346.14 114.86,346.2 115.59,346.25 116.32,346.3 117.05,346.35 117.79,346.41 118.52,346.46 119.25,346.51 119.99,346.56 120.72,346.61 121.45,346.66 122.18,346.71 122.92,346.76 123.65,346.81 124.38,346.86 125.11,346.91 125.85,346.96 126.58,347.01 127.31,347.06 128.04,347.11 128.78,347.15 129.51,347.2 130.24,347.25 130.98,347.3 131.71,347.35 132.44,347.39 133.17,347.44 133.91,347.49 134.64,347.53 135.37,347.58 136.1,347.63 136.84,347.68 137.57,347.72 138.3,347.77 139.04,347.82 139.77,347.86 140.5,347.91 141.23,347.96 141.97,348 142.7,348.05 143.43,348.1 144.16,348.14 144.9,348.19 145.63,348.24 146.36,348.28 147.1,348.33 147.83,348.38 148.56,348.42 149.29,348.47 150.03,348.52 150.76,348.56 151.49,348.61 152.22,348.65 152.96,348.7 153.69,348.75 154.42,348.79 155.15,348.84 155.89,348.89 156.62,348.93 157.35,348.98 158.09,349.02 158.82,349.07 159.55,349.12 160.28,349.16 161.02,349.21 161.75,349.25 162.48,349.3 163.21,349.35 163.95,349.39 164.68,349.44 165.41,349.49 166.15,349.53 166.88,349.58 167.61,349.62 168.34,349.67 169.08,349.72 169.81,349.76 170.54,349.81 171.27,349.85 172.01,349.9 172.74,349.95 173.47,349.99 174.2,350.04 174.94,350.08 175.67,350.13 176.4,350.18 177.14,350.22 177.87,350.27 178.6,350.32 179.33,350.36 180.07,350.41 180.8,350.45 181.53,350.5 182.26,350.55 183,350.59 183.73,350.64 184.46,350.68 185.2,350.73 185.93,350.78 186.66,350.82 187.39,350.87 188.13,350.91 188.86,350.96 189.59,351.01 190.32,351.05 191.06,351.1 191.79,351.14 192.52,351.19 193.26,351.24 193.99,351.28 194.72,351.33 195.45,351.37 196.19,351.42 196.92,351.47 197.65,351.51 198.38,351.56 199.12,351.61 199.85,351.65 200.58,351.7 201.31,351.74 202.05,351.79 202.78,351.84 203.51,351.88 204.25,351.93 204.98,351.97 205.71,352.02 206.44,352.07 207.18,352.11 207.91,352.16 208.64,352.2 209.37,352.25 210.11,352.3 210.84,352.34 211.57,352.39 212.31,352.43 213.04,352.48 213.77,352.53 214.5,352.57 215.24,352.62 215.97,352.66 216.7,352.71 217.43,352.76 218.17,352.8 218.9,352.85 219.63,352.9 220.37,352.94 221.1,352.99 221.83,353.03 222.56,353.08 223.3,353.13 224.03,353.17 224.76,353.22 225.49,353.26 226.23,353.31 226.96,353.36 227.69,353.4 228.42,353.45 229.16,353.49 229.89,353.54 230.62,353.59 231.36,353.63 232.09,353.68 232.82,353.72 233.55,353.77 234.29,353.82 235.02,353.86 235.75,353.91 236.48,353.95 237.22,354 237.95,354.05 238.68,354.09 239.42,354.14 240.15,354.19 240.88,354.23 241.61,354.28 242.35,354.32 243.08,354.37 243.81,354.42 244.54,354.46 245.28,354.51 246.01,354.55 246.74,354.6 247.48,354.65 248.21,354.69 248.94,354.74 249.67,354.78 250.41,354.83 251.14,354.88 251.87,354.92 252.6,354.97 253.34,355.01 254.07,355.06 254.8,355.11 255.53,355.15 256.27,355.2 257,355.24 257.73,355.29 258.47,355.34 259.2,355.38 259.93,355.43 260.66,355.48 261.4,355.52 262.13,355.57 262.86,355.61 263.59,355.66 264.33,355.71 265.06,355.75 265.79,355.8 266.53,355.84 267.26,355.89 267.99,355.94 268.72,355.98 269.46,356.03 270.19,356.07 270.92,356.12 271.65,356.17 272.39,356.21 273.12,356.26 273.85,356.3 274.58,356.35 275.32,356.4 276.05,356.44 276.78,356.49 277.52,356.53 278.25,356.58 278.98,356.63 279.71,356.67 280.45,356.72 281.18,356.76 281.91,356.81 282.64,356.86 283.38,356.9 284.11,356.95"/>
<polyline fill="none" stroke="#000" stroke-width="9.3" stroke-linecap="round" stroke-linejoin="round" points="71.63,382.43 72.36,383.2 73.09,383.91 73.83,384.56 74.56,385.17 75.29,385.73 76.02,386.25 76.76,386.73 77.49,387.18 78.22,387.59 78.95,387.97 79.69,388.33 80.42,388.66 81.15,388.96 81.88,389.24 82.62,389.5 83.35,389.74 84.08,389.96 84.82,390.17 85.55,390.36 86.28,390.54 87.01,390.7 87.75,390.86 88.48,391 89.21,391.13 89.94,391.25 90.68,391.36 91.41,391.46 92.14,391.56 92.88,391.65 93.61,391.73 94.34,391.81 95.07,391.88 95.81,391.94 96.54,392 97.27,392.06 98,392.11 98.74,392.16 99.47,392.2 100.2,392.24 100.94,392.28 101.67,392.32 102.4,392.35 103.13,392.38 103.87,392.41 104.6,392.43 105.33,392.46 106.06,392.48 106.8,392.5 107.53,392.52 108.26,392.54 108.99,392.55 109.73,392.57 110.46,392.58 111.19,392.59 111.93,392.61 112.66,392.62 113.39,392.63 114.12,392.64 114.86,392.65 115.59,392.65 116.32,392.66 117.05,392.67 117.79,392.68 118.52,392.68 119.25,392.69 119.99,392.69 120.72,392.7 121.45,392.7 122.18,392.71 122.92,392.71 123.65,392.71 124.38,392.72 125.11,392.72 125.85,392.72 126.58,392.72 127.31,392.73 128.04,392.73 128.78,392.73 129.51,392.73 130.24,392.73 130.98,392.71 131.71,392.69 132.44,392.66 133.17,392.64 133.91,392.61 134.64,392.59 135.37,392.56 136.1,392.54 136.84,392.51 137.57,392.48 138.3,392.46 139.04,392.43 139.77,392.41 140.5,392.38 141.23,392.36 141.97,392.33 142.7,392.31 143.43,392.28 144.16,392.25 144.9,392.23 145.63,392.2 146.36,392.18 147.1,392.15 147.83,392.12 148.56,392.1 149.29,392.07 150.03,392.05 150.76,392.02 151.49,392.02 152.22,391.11 152.96,388.66 153.69,385.03 154.42,380.6 155.15,375.74 155.89,370.78 156.62,366.06 157.35,361.91 158.09,358.63 158.82,356.55 159.55,355.95 160.28,356.2 161.02,356.43 161.75,356.66 162.48,356.88 163.21,357.1 163.95,357.31 164.68,357.51 165.41,357.71 166.15,357.9 166.88,358.08 167.61,358.27 168.34,358.44 169.08,358.61 169.81,358.78 170.54,358.94 171.27,359.1 172.01,359.26 172.74,359.41 173.47,359.56 174.2,359.7 174.94,359.84 175.67,359.98 176.4,360.11 177.14,360.24 177.87,360.37 178.6,360.5 179.33,360.62 180.07,360.74 180.8,360.86 181.53,360.97 182.26,361.09 183,361.2 183.73,361.31 184.46,361.41 185.2,361.52 185.93,361.62 186.66,361.72 187.39,361.82 188.13,361.92 188.86,362.02 189.59,362.11 190.32,362.21 191.06,362.3 191.79,362.39 192.52,362.48 193.26,362.57 193.99,362.65 194.72,362.74 195.45,362.82 196.19,362.91 196.92,362.99 197.65,363.07 198.38,363.15 199.12,363.23 199.85,363.31 200.58,363.39 201.31,363.47 202.05,363.54 202.78,363.62 203.51,363.69 204.25,363.77 204.98,363.84 205.71,363.91 206.44,363.99 207.18,364.06 207.91,364.13 208.64,364.2 209.37,364.27 210.11,364.34 210.84,364.41 211.57,364.48 212.31,364.55 213.04,364.62 213.77,364.68 214.5,364.75 215.24,364.82 215.97,364.88 216.7,364.95 217.43,365.02 218.17,365.08 218.9,365.15 219.63,365.21 220.37,365.28 221.1,365.34 221.83,365.4 222.56,365.47 223.3,365.53 224.03,365.59 224.76,365.66 225.49,365.72 226.23,365.78 226.96,365.85 227.69,365.91 228.42,365.97 229.16,366.03 229.89,366.09 230.62,366.15 231.36,366.22 232.09,366.28 232.82,366.34 233.55,366.4 234.29,366.46 235.02,366.52 235.75,366.58 236.48,366.64 237.22,366.7 237.95,366.76 238.68,366.82 239.42,366.88 240.15,366.94 240.88,367 241.61,367.06 242.35,367.12 243.08,367.18 243.81,367.24 244.54,367.3 245.28,367.36 246.01,367.42 246.74,367.48 247.48,367.54 248.21,367.6 248.94,367.66 249.67,367.71 250.41,367.77 251.14,367.83 251.87,367.89 252.6,367.95 253.34,368.01 254.07,368.07 254.8,368.13 255.53,368.18 256.27,368.24 257,368.3 257.73,368.36 258.47,368.42 259.2,368.48 259.93,368.54 260.66,368.59 261.4,368.65 262.13,368.71 262.86,368.77 263.59,368.83 264.33,368.89 265.06,368.94 265.79,369 266.53,369.06 267.26,369.12 267.99,369.18 268.72,369.23 269.46,369.29 270.19,369.35 270.92,369.41 271.65,369.47 272.39,369.52 273.12,369.58 273.85,369.64 274.58,369.7 275.32,369.76 276.05,369.81 276.78,369.87 277.52,369.93 278.25,369.99 278.98,370.05 279.71,370.1 280.45,370.16 281.18,370.22 281.91,370.28 282.64,370.33 283.38,370.39 284.11,370.45"/>
</g>
<g clip-path="url(#cd)">
<polyline fill="none" stroke="#3a6cbe" stroke-width="9.3" stroke-linecap="round" stroke-linejoin="round" points="291.89,458.49 292.63,458.47 293.36,458.46 294.09,458.45 294.82,458.44 295.56,458.43 296.29,458.42 297.02,458.41 297.75,458.41 298.49,458.4 299.22,458.4 299.95,458.4 300.69,458.41 301.42,458.41 302.15,458.42 302.88,458.43 303.62,458.44 304.35,458.45 305.08,458.46 305.81,458.48 306.55,458.49 307.28,458.51 308.01,458.53 308.75,458.55 309.48,458.57 310.21,458.59 310.94,458.61 311.68,458.64 312.41,458.66 313.14,458.69 313.87,458.71 314.61,458.73 315.34,458.76 316.07,458.78 316.81,458.8 317.54,458.83 318.27,458.85 319,458.87 319.74,458.89 320.47,458.91 321.2,458.93 321.93,458.95 322.67,458.96 323.4,458.98 324.13,458.99 324.86,459 325.6,459.01 326.33,459.02 327.06,459.02 327.8,459.03 328.53,459.03 329.26,459.03 329.99,459.03 330.73,459.03 331.46,459.02 332.19,459.02 332.92,459.01 333.66,459 334.39,458.98 335.12,458.97 335.86,458.96 336.59,458.94 337.32,458.92 338.05,458.9 338.79,458.88 339.52,458.86 340.25,458.84 340.98,458.82 341.72,458.79 342.45,458.77 343.18,458.75 343.92,458.72 344.65,458.7 345.38,458.67 346.11,458.65 346.85,458.63 347.58,458.6 348.31,458.58 349.04,458.56 349.78,458.54 350.51,458.52 351.24,458.5 351.97,458.49 352.71,458.47 353.44,458.46 354.17,458.44 354.91,458.43 355.64,458.42 356.37,458.42 357.1,458.41 357.84,458.41 358.57,458.4 359.3,458.4 360.03,458.41 360.77,458.41 361.5,458.41 362.23,458.42 362.97,458.43 363.7,458.44 364.43,458.45 365.16,458.47 365.9,458.48 366.63,458.5 367.36,458.52 368.09,458.54 368.83,458.56 369.56,458.58 370.29,458.6 371.02,458.62 371.76,458.65 372.49,458.67 373.22,458.69 373.96,458.72 374.69,458.74 375.42,458.77 376.15,458.79 376.89,458.81 377.62,458.83 378.35,458.86 379.08,458.88 379.82,458.9 380.55,458.92 381.28,458.94 382.02,458.95 382.75,458.97 383.48,458.98 384.21,458.99 384.95,459 385.68,459.01 386.41,459.02 387.14,459.03 387.88,459.03 388.61,459.03 389.34,459.03 390.08,459.03 390.81,459.03 391.54,459.02 392.27,459.01 393.01,459 393.74,458.99 394.47,458.98 395.2,458.97 395.94,458.95 396.67,458.93 397.4,458.92 398.13,458.9 398.87,458.88 399.6,458.85 400.33,458.83 401.07,458.81 401.8,458.79 402.53,458.76 403.26,458.74 404,458.71 404.73,458.69 405.46,458.67 406.19,458.64 406.93,458.62 407.66,458.6 408.39,458.57 409.13,458.55 409.86,458.53 410.59,458.51 411.32,458.5 412.06,458.48 412.79,458.47 413.52,458.45 414.25,458.44 414.99,458.43 415.72,458.42 416.45,458.41 417.19,458.41 417.92,458.41 418.65,458.4 419.38,458.4 420.12,458.41 420.85,458.41 421.58,458.42 422.31,458.42 423.05,458.43 423.78,458.44 424.51,458.46 425.24,458.47 425.98,458.49 426.71,458.5 427.44,458.52 428.18,458.54 428.91,458.56 429.64,458.58 430.37,458.61 431.11,458.63 431.84,458.65 432.57,458.68 433.3,458.7 434.04,458.72 434.77,458.75 435.5,458.77 436.24,458.8 436.97,458.82 437.7,458.84 438.43,458.86 439.17,458.88 439.9,458.9 440.63,458.92 441.36,458.94 442.1,458.96 442.83,458.97 443.56,458.99 444.29,459 445.03,459.01 445.76,459.02 446.49,459.02 447.23,459.03 447.96,459.03 448.69,459.03 449.42,459.03 450.16,459.03 450.89,459.02 451.62,459.02 452.35,459.01 453.09,459 453.82,458.99 454.55,458.98 455.29,458.96 456.02,458.95 456.75,458.93 457.48,458.91 458.22,458.89 458.95,458.87 459.68,458.85 460.41,458.83 461.15,458.8 461.88,458.78 462.61,458.75 463.35,458.73 464.08,458.71 464.81,458.68 465.54,458.66 466.28,458.64 467.01,458.61 467.74,458.59 468.47,458.57 469.21,458.55 469.94,458.53 470.67,458.51 471.4,458.49 472.14,458.48 472.87,458.46 473.6,458.45 474.34,458.44 475.07,458.43 475.8,458.42 476.53,458.41 477.27,458.41 478,458.4 478.73,458.4 479.46,458.4 480.2,458.41 480.93,458.41 481.66,458.42 482.4,458.43 483.13,458.44 483.86,458.45 484.59,458.46 485.33,458.48 486.06,458.49 486.79,458.51 487.52,458.53 488.26,458.55 488.99,458.57 489.72,458.59 490.46,458.61 491.19,458.64 491.92,458.66 492.65,458.68 493.39,458.71 494.12,458.73 494.85,458.76 495.58,458.78 496.32,458.8 497.05,458.83 497.78,458.85 498.51,458.87 499.25,458.89 499.98,458.91 500.71,458.93 501.45,458.95 502.18,458.96 502.91,458.98 503.64,458.99"/>
<polyline fill="none" stroke="#000" stroke-width="9.3" stroke-linecap="round" stroke-linejoin="round" points="291.89,499.81 292.63,499.97 293.36,500.11 294.09,500.23 294.82,500.35 295.56,500.45 296.29,500.54 297.02,500.63 297.75,500.71 298.49,500.78 299.22,500.84 299.95,500.89 300.69,500.95 301.42,500.99 302.15,501.03 302.88,501.07 303.62,501.11 304.35,501.14 305.08,501.17 305.81,501.19 306.55,501.22 307.28,501.24 308.01,501.26 308.75,501.27 309.48,501.29 310.21,501.3 310.94,501.31 311.68,501.33 312.41,501.34 313.14,501.35 313.87,501.35 314.61,501.36 315.34,501.37 316.07,501.38 316.81,501.38 317.54,501.39 318.27,501.39 319,501.4 319.74,501.4 320.47,501.4 321.2,501.41 321.93,501.41 322.67,501.41 323.4,501.41 324.13,501.42 324.86,501.42 325.6,501.42 326.33,501.42 327.06,501.42 327.8,501.42 328.53,501.42 329.26,501.43 329.99,501.43 330.73,501.43 331.46,501.43 332.19,501.43 332.92,501.43 333.66,501.43 334.39,501.43 335.12,501.43 335.86,501.43 336.59,501.43 337.32,501.43 338.05,501.43 338.79,501.43 339.52,501.43 340.25,501.43 340.98,501.43 341.72,501.43 342.45,501.43 343.18,501.43 343.92,501.43 344.65,501.43 345.38,501.43 346.11,501.43 346.85,501.43 347.58,501.43 348.31,501.43 349.04,501.43 349.78,501.43 350.51,501.43 351.24,501.43 351.97,501.43 352.71,501.43 353.44,501.43 354.17,501.43 354.91,501.43 355.64,501.43 356.37,501.43 357.1,501.43 357.84,501.43 358.57,501.44 359.3,501.44 360.03,501.44 360.77,501.44 361.5,501.44 362.23,501.44 362.97,501.44 363.7,501.44 364.43,501.44 365.16,501.44 365.9,501.44 366.63,501.44 367.36,501.44 368.09,501.44 368.83,501.44 369.56,501.44 370.29,501.44 371.02,501.44 371.76,501.44 372.49,501.44 373.22,501.44 373.96,501.3 374.69,501.04 375.42,500.78 376.15,500.52 376.89,500.26 377.62,500 378.35,499.73 379.08,499.47 379.82,499.34 380.55,499.34 381.28,499.34 382.02,499.34 382.75,499.34 383.48,499.34 384.21,499.34 384.95,499.34 385.68,499.34 386.41,499.34 387.14,499.34 387.88,499.34 388.61,499.34 389.34,499.34 390.08,499.34 390.81,499.34 391.54,499.34 392.27,499.34 393.01,499.34 393.74,499.34 394.47,499.34 395.2,499.34 395.94,499.34 396.67,499.34 397.4,499.34 398.13,499.34 398.87,499.34 399.6,499.34 400.33,499.34 401.07,499.34 401.8,499.34 402.53,499.34 403.26,499.34 404,499.34 404.73,499.34 405.46,499.34 406.19,499.34 406.93,499.34 407.66,499.34 408.39,499.34 409.13,499.34 409.86,499.34 410.59,499.34 411.32,499.34 412.06,499.34 412.79,499.34 413.52,499.34 414.25,499.34 414.99,499.34 415.72,499.34 416.45,499.34 417.19,499.34 417.92,499.34 418.65,499.34 419.38,499.34 420.12,499.34 420.85,499.34 421.58,499.34 422.31,499.34 423.05,499.34 423.78,499.32 424.51,499.14 425.24,498.81 425.98,498.33 426.71,497.73 427.44,497.02 428.18,496.21 428.91,495.34 429.64,494.4 430.37,493.42 431.11,492.41 431.84,491.4 432.57,490.4 433.3,489.42 434.04,488.48 434.77,487.6 435.5,486.8 436.24,486.09 436.97,485.48 437.7,485.01 438.43,484.67 439.17,484.5 439.9,484.47 440.63,484.47 441.36,484.47 442.1,484.47 442.83,484.47 443.56,484.47 444.29,484.47 445.03,484.47 445.76,484.47 446.49,484.47 447.23,484.47 447.96,484.47 448.69,484.47 449.42,484.47 450.16,484.47 450.89,484.47 451.62,484.47 452.35,484.47 453.09,484.47 453.82,484.47 454.55,484.47 455.29,484.47 456.02,484.47 456.75,484.47 457.48,484.47 458.22,484.47 458.95,484.47 459.68,484.47 460.41,484.47 461.15,484.47 461.88,484.47 462.61,484.47 463.35,484.47 464.08,484.47 464.81,484.47 465.54,484.47 466.28,484.47 467.01,484.47 467.74,484.47 468.47,484.47 469.21,484.47 469.94,484.47 470.67,484.47 471.4,484.47 472.14,484.47 472.87,484.47 473.6,484.47 474.34,484.47 475.07,484.47 475.8,484.47 476.53,484.47 477.27,484.47 478,484.47 478.73,484.47 479.46,484.47 480.2,484.47 480.93,484.47 481.66,484.47 482.4,484.47 483.13,484.47 483.86,484.47 484.59,484.47 485.33,484.47 486.06,484.47 486.79,484.47 487.52,484.47 488.26,484.47 488.99,484.47 489.72,484.47 490.46,484.47 491.19,484.47 491.92,484.47 492.65,484.47 493.39,484.47 494.12,484.47 494.85,484.47 495.58,484.47 496.32,484.47 497.05,484.47 497.78,484.47 498.51,484.47 499.25,484.47 499.98,484.47 500.71,484.47 501.45,484.47 502.18,484.47 502.91,484.47 503.64,484.47"/>
</g>
<rect x="64" y="0.6" width="220" height="220.1" fill="none" stroke="#000" stroke-width="1.4"/>
<rect x="284" y="0.6" width="219.9" height="220.1" fill="none" stroke="#000" stroke-width="1.4"/>
<rect x="64" y="300.7" width="220" height="220" fill="none" stroke="#000" stroke-width="1.4"/>
<rect x="284" y="300.7" width="219.9" height="220" fill="none" stroke="#000" stroke-width="1.4"/>
<line x1="82.6" y1="220.7" x2="82.6" y2="213.7" stroke="#000" stroke-width="1.4"/>
<line x1="82.6" y1="0.6" x2="82.6" y2="7.6" stroke="#000" stroke-width="1.4"/>
<line x1="105.99" y1="220.7" x2="105.99" y2="216.7" stroke="#000" stroke-width="1.4"/>
<line x1="105.99" y1="0.6" x2="105.99" y2="4.6" stroke="#000" stroke-width="1.4"/>
<line x1="129.38" y1="220.7" x2="129.38" y2="213.7" stroke="#000" stroke-width="1.4"/>
<line x1="129.38" y1="0.6" x2="129.38" y2="7.6" stroke="#000" stroke-width="1.4"/>
<line x1="152.77" y1="220.7" x2="152.77" y2="216.7" stroke="#000" stroke-width="1.4"/>
<line x1="152.77" y1="0.6" x2="152.77" y2="4.6" stroke="#000" stroke-width="1.4"/>
<line x1="176.16" y1="220.7" x2="176.16" y2="213.7" stroke="#000" stroke-width="1.4"/>
<line x1="176.16" y1="0.6" x2="176.16" y2="7.6" stroke="#000" stroke-width="1.4"/>
<line x1="199.55" y1="220.7" x2="199.55" y2="216.7" stroke="#000" stroke-width="1.4"/>
<line x1="199.55" y1="0.6" x2="199.55" y2="4.6" stroke="#000" stroke-width="1.4"/>
<line x1="222.94" y1="220.7" x2="222.94" y2="213.7" stroke="#000" stroke-width="1.4"/>
<line x1="222.94" y1="0.6" x2="222.94" y2="7.6" stroke="#000" stroke-width="1.4"/>
<line x1="246.33" y1="220.7" x2="246.33" y2="216.7" stroke="#000" stroke-width="1.4"/>
<line x1="246.33" y1="0.6" x2="246.33" y2="4.6" stroke="#000" stroke-width="1.4"/>
<line x1="269.72" y1="220.7" x2="269.72" y2="213.7" stroke="#000" stroke-width="1.4"/>
<line x1="269.72" y1="0.6" x2="269.72" y2="7.6" stroke="#000" stroke-width="1.4"/>
<line x1="302.6" y1="220.7" x2="302.6" y2="213.7" stroke="#000" stroke-width="1.4"/>
<line x1="302.6" y1="0.6" x2="302.6" y2="7.6" stroke="#000" stroke-width="1.4"/>
<line x1="325.99" y1="220.7" x2="325.99" y2="216.7" stroke="#000" stroke-width="1.4"/>
<line x1="325.99" y1="0.6" x2="325.99" y2="4.6" stroke="#000" stroke-width="1.4"/>
<line x1="349.38" y1="220.7" x2="349.38" y2="213.7" stroke="#000" stroke-width="1.4"/>
<line x1="349.38" y1="0.6" x2="349.38" y2="7.6" stroke="#000" stroke-width="1.4"/>
<line x1="372.77" y1="220.7" x2="372.77" y2="216.7" stroke="#000" stroke-width="1.4"/>
<line x1="372.77" y1="0.6" x2="372.77" y2="4.6" stroke="#000" stroke-width="1.4"/>
<line x1="396.16" y1="220.7" x2="396.16" y2="213.7" stroke="#000" stroke-width="1.4"/>
<line x1="396.16" y1="0.6" x2="396.16" y2="7.6" stroke="#000" stroke-width="1.4"/>
<line x1="419.55" y1="220.7" x2="419.55" y2="216.7" stroke="#000" stroke-width="1.4"/>
<line x1="419.55" y1="0.6" x2="419.55" y2="4.6" stroke="#000" stroke-width="1.4"/>
<line x1="442.94" y1="220.7" x2="442.94" y2="213.7" stroke="#000" stroke-width="1.4"/>
<line x1="442.94" y1="0.6" x2="442.94" y2="7.6" stroke="#000" stroke-width="1.4"/>
<line x1="466.33" y1="220.7" x2="466.33" y2="216.7" stroke="#000" stroke-width="1.4"/>
<line x1="466.33" y1="0.6" x2="466.33" y2="4.6" stroke="#000" stroke-width="1.4"/>
<line x1="489.72" y1="220.7" x2="489.72" y2="213.7" stroke="#000" stroke-width="1.4"/>
<line x1="489.72" y1="0.6" x2="489.72" y2="7.6" stroke="#000" stroke-width="1.4"/>
<line x1="64" y1="217.18" x2="68" y2="217.18" stroke="#000" stroke-width="1.4"/>
<line x1="284" y1="217.18" x2="280" y2="217.18" stroke="#000" stroke-width="1.4"/>
<line x1="64" y1="213.87" x2="68" y2="213.87" stroke="#000" stroke-width="1.4"/>
<line x1="284" y1="213.87" x2="280" y2="213.87" stroke="#000" stroke-width="1.4"/>
<line x1="64" y1="211.07" x2="68" y2="211.07" stroke="#000" stroke-width="1.4"/>
<line x1="284" y1="211.07" x2="280" y2="211.07" stroke="#000" stroke-width="1.4"/>
<line x1="64" y1="208.65" x2="68" y2="208.65" stroke="#000" stroke-width="1.4"/>
<line x1="284" y1="208.65" x2="280" y2="208.65" stroke="#000" stroke-width="1.4"/>
<line x1="64" y1="206.51" x2="68" y2="206.51" stroke="#000" stroke-width="1.4"/>
<line x1="284" y1="206.51" x2="280" y2="206.51" stroke="#000" stroke-width="1.4"/>
<line x1="64" y1="204.6" x2="71" y2="204.6" stroke="#000" stroke-width="1.4"/>
<line x1="284" y1="204.6" x2="277" y2="204.6" stroke="#000" stroke-width="1.4"/>
<line x1="64" y1="192.02" x2="68" y2="192.02" stroke="#000" stroke-width="1.4"/>
<line x1="284" y1="192.02" x2="280" y2="192.02" stroke="#000" stroke-width="1.4"/>
<line x1="64" y1="184.66" x2="68" y2="184.66" stroke="#000" stroke-width="1.4"/>
<line x1="284" y1="184.66" x2="280" y2="184.66" stroke="#000" stroke-width="1.4"/>
<line x1="64" y1="179.43" x2="68" y2="179.43" stroke="#000" stroke-width="1.4"/>
<line x1="284" y1="179.43" x2="280" y2="179.43" stroke="#000" stroke-width="1.4"/>
<line x1="64" y1="175.38" x2="68" y2="175.38" stroke="#000" stroke-width="1.4"/>
<line x1="284" y1="175.38" x2="280" y2="175.38" stroke="#000" stroke-width="1.4"/>
<line x1="64" y1="172.07" x2="68" y2="172.07" stroke="#000" stroke-width="1.4"/>
<line x1="284" y1="172.07" x2="280" y2="172.07" stroke="#000" stroke-width="1.4"/>
<line x1="64" y1="169.27" x2="68" y2="169.27" stroke="#000" stroke-width="1.4"/>
<line x1="284" y1="169.27" x2="280" y2="169.27" stroke="#000" stroke-width="1.4"/>
<line x1="64" y1="166.85" x2="68" y2="166.85" stroke="#000" stroke-width="1.4"/>
<line x1="284" y1="166.85" x2="280" y2="166.85" stroke="#000" stroke-width="1.4"/>
<line x1="64" y1="164.71" x2="68" y2="164.71" stroke="#000" stroke-width="1.4"/>
<line x1="284" y1="164.71" x2="280" y2="164.71" stroke="#000" stroke-width="1.4"/>
<line x1="64" y1="162.8" x2="71" y2="162.8" stroke="#000" stroke-width="1.4"/>
<line x1="284" y1="162.8" x2="277" y2="162.8" stroke="#000" stroke-width="1.4"/>
<line x1="64" y1="150.22" x2="68" y2="150.22" stroke="#000" stroke-width="1.4"/>
<line x1="284" y1="150.22" x2="280" y2="150.22" stroke="#000" stroke-width="1.4"/>
<line x1="64" y1="142.86" x2="68" y2="142.86" stroke="#000" stroke-width="1.4"/>
<line x1="284" y1="142.86" x2="280" y2="142.86" stroke="#000" stroke-width="1.4"/>
<line x1="64" y1="137.63" x2="68" y2="137.63" stroke="#000" stroke-width="1.4"/>
<line x1="284" y1="137.63" x2="280" y2="137.63" stroke="#000" stroke-width="1.4"/>
<line x1="64" y1="133.58" x2="68" y2="133.58" stroke="#000" stroke-width="1.4"/>
<line x1="284" y1="133.58" x2="280" y2="133.58" stroke="#000" stroke-width="1.4"/>
<line x1="64" y1="130.27" x2="68" y2="130.27" stroke="#000" stroke-width="1.4"/>
<line x1="284" y1="130.27" x2="280" y2="130.27" stroke="#000" stroke-width="1.4"/>
<line x1="64" y1="127.47" x2="68" y2="127.47" stroke="#000" stroke-width="1.4"/>
<line x1="284" y1="127.47" x2="280" y2="127.47" stroke="#000" stroke-width="1.4"/>
<line x1="64" y1="125.05" x2="68" y2="125.05" stroke="#000" stroke-width="1.4"/>
<line x1="284" y1="125.05" x2="280" y2="125.05" stroke="#000" stroke-width="1.4"/>
<line x1="64" y1="122.91" x2="68" y2="122.91" stroke="#000" stroke-width="1.4"/>
<line x1="284" y1="122.91" x2="280" y2="122.91" stroke="#000" stroke-width="1.4"/>
<line x1="64" y1="121" x2="71" y2="121" stroke="#000" stroke-width="1.4"/>
<line x1="284" y1="121" x2="277" y2="121" stroke="#000" stroke-width="1.4"/>
<line x1="64" y1="108.42" x2="68" y2="108.42" stroke="#000" stroke-width="1.4"/>
<line x1="284" y1="108.42" x2="280" y2="108.42" stroke="#000" stroke-width="1.4"/>
<line x1="64" y1="101.06" x2="68" y2="101.06" stroke="#000" stroke-width="1.4"/>
<line x1="284" y1="101.06" x2="280" y2="101.06" stroke="#000" stroke-width="1.4"/>
<line x1="64" y1="95.83" x2="68" y2="95.83" stroke="#000" stroke-width="1.4"/>
<line x1="284" y1="95.83" x2="280" y2="95.83" stroke="#000" stroke-width="1.4"/>
<line x1="64" y1="91.78" x2="68" y2="91.78" stroke="#000" stroke-width="1.4"/>
<line x1="284" y1="91.78" x2="280" y2="91.78" stroke="#000" stroke-width="1.4"/>
<line x1="64" y1="88.47" x2="68" y2="88.47" stroke="#000" stroke-width="1.4"/>
<line x1="284" y1="88.47" x2="280" y2="88.47" stroke="#000" stroke-width="1.4"/>
<line x1="64" y1="85.67" x2="68" y2="85.67" stroke="#000" stroke-width="1.4"/>
<line x1="284" y1="85.67" x2="280" y2="85.67" stroke="#000" stroke-width="1.4"/>
<line x1="64" y1="83.25" x2="68" y2="83.25" stroke="#000" stroke-width="1.4"/>
<line x1="284" y1="83.25" x2="280" y2="83.25" stroke="#000" stroke-width="1.4"/>
<line x1="64" y1="81.11" x2="68" y2="81.11" stroke="#000" stroke-width="1.4"/>
<line x1="284" y1="81.11" x2="280" y2="81.11" stroke="#000" stroke-width="1.4"/>
<line x1="64" y1="79.2" x2="71" y2="79.2" stroke="#000" stroke-width="1.4"/>
<line x1="284" y1="79.2" x2="277" y2="79.2" stroke="#000" stroke-width="1.4"/>
<line x1="64" y1="66.62" x2="68" y2="66.62" stroke="#000" stroke-width="1.4"/>
<line x1="284" y1="66.62" x2="280" y2="66.62" stroke="#000" stroke-width="1.4"/>
<line x1="64" y1="59.26" x2="68" y2="59.26" stroke="#000" stroke-width="1.4"/>
<line x1="284" y1="59.26" x2="280" y2="59.26" stroke="#000" stroke-width="1.4"/>
<line x1="64" y1="54.03" x2="68" y2="54.03" stroke="#000" stroke-width="1.4"/>
<line x1="284" y1="54.03" x2="280" y2="54.03" stroke="#000" stroke-width="1.4"/>
<line x1="64" y1="49.98" x2="68" y2="49.98" stroke="#000" stroke-width="1.4"/>
<line x1="284" y1="49.98" x2="280" y2="49.98" stroke="#000" stroke-width="1.4"/>
<line x1="64" y1="46.67" x2="68" y2="46.67" stroke="#000" stroke-width="1.4"/>
<line x1="284" y1="46.67" x2="280" y2="46.67" stroke="#000" stroke-width="1.4"/>
<line x1="64" y1="43.87" x2="68" y2="43.87" stroke="#000" stroke-width="1.4"/>
<line x1="284" y1="43.87" x2="280" y2="43.87" stroke="#000" stroke-width="1.4"/>
<line x1="64" y1="41.45" x2="68" y2="41.45" stroke="#000" stroke-width="1.4"/>
<line x1="284" y1="41.45" x2="280" y2="41.45" stroke="#000" stroke-width="1.4"/>
<line x1="64" y1="39.31" x2="68" y2="39.31" stroke="#000" stroke-width="1.4"/>
<line x1="284" y1="39.31" x2="280" y2="39.31" stroke="#000" stroke-width="1.4"/>
<line x1="64" y1="37.4" x2="71" y2="37.4" stroke="#000" stroke-width="1.4"/>
<line x1="284" y1="37.4" x2="277" y2="37.4" stroke="#000" stroke-width="1.4"/>
<line x1="64" y1="24.82" x2="68" y2="24.82" stroke="#000" stroke-width="1.4"/>
<line x1="284" y1="24.82" x2="280" y2="24.82" stroke="#000" stroke-width="1.4"/>
<line x1="64" y1="17.46" x2="68" y2="17.46" stroke="#000" stroke-width="1.4"/>
<line x1="284" y1="17.46" x2="280" y2="17.46" stroke="#000" stroke-width="1.4"/>
<line x1="64" y1="12.23" x2="68" y2="12.23" stroke="#000" stroke-width="1.4"/>
<line x1="284" y1="12.23" x2="280" y2="12.23" stroke="#000" stroke-width="1.4"/>
<line x1="64" y1="8.18" x2="68" y2="8.18" stroke="#000" stroke-width="1.4"/>
<line x1="284" y1="8.18" x2="280" y2="8.18" stroke="#000" stroke-width="1.4"/>
<line x1="64" y1="4.87" x2="68" y2="4.87" stroke="#000" stroke-width="1.4"/>
<line x1="284" y1="4.87" x2="280" y2="4.87" stroke="#000" stroke-width="1.4"/>
<line x1="64" y1="2.07" x2="68" y2="2.07" stroke="#000" stroke-width="1.4"/>
<line x1="284" y1="2.07" x2="280" y2="2.07" stroke="#000" stroke-width="1.4"/>
<line x1="284" y1="217.18" x2="288" y2="217.18" stroke="#000" stroke-width="1.4"/>
<line x1="503.9" y1="217.18" x2="499.9" y2="217.18" stroke="#000" stroke-width="1.4"/>
<line x1="284" y1="213.87" x2="288" y2="213.87" stroke="#000" stroke-width="1.4"/>
<line x1="503.9" y1="213.87" x2="499.9" y2="213.87" stroke="#000" stroke-width="1.4"/>
<line x1="284" y1="211.07" x2="288" y2="211.07" stroke="#000" stroke-width="1.4"/>
<line x1="503.9" y1="211.07" x2="499.9" y2="211.07" stroke="#000" stroke-width="1.4"/>
<line x1="284" y1="208.65" x2="288" y2="208.65" stroke="#000" stroke-width="1.4"/>
<line x1="503.9" y1="208.65" x2="499.9" y2="208.65" stroke="#000" stroke-width="1.4"/>
<line x1="284" y1="206.51" x2="288" y2="206.51" stroke="#000" stroke-width="1.4"/>
<line x1="503.9" y1="206.51" x2="499.9" y2="206.51" stroke="#000" stroke-width="1.4"/>
<line x1="284" y1="204.6" x2="291" y2="204.6" stroke="#000" stroke-width="1.4"/>
<line x1="503.9" y1="204.6" x2="496.9" y2="204.6" stroke="#000" stroke-width="1.4"/>
<line x1="284" y1="192.02" x2="288" y2="192.02" stroke="#000" stroke-width="1.4"/>
<line x1="503.9" y1="192.02" x2="499.9" y2="192.02" stroke="#000" stroke-width="1.4"/>
<line x1="284" y1="184.66" x2="288" y2="184.66" stroke="#000" stroke-width="1.4"/>
<line x1="503.9" y1="184.66" x2="499.9" y2="184.66" stroke="#000" stroke-width="1.4"/>
<line x1="284" y1="179.43" x2="288" y2="179.43" stroke="#000" stroke-width="1.4"/>
<line x1="503.9" y1="179.43" x2="499.9" y2="179.43" stroke="#000" stroke-width="1.4"/>
<line x1="284" y1="175.38" x2="288" y2="175.38" stroke="#000" stroke-width="1.4"/>
<line x1="503.9" y1="175.38" x2="499.9" y2="175.38" stroke="#000" stroke-width="1.4"/>
<line x1="284" y1="172.07" x2="288" y2="172.07" stroke="#000" stroke-width="1.4"/>
<line x1="503.9" y1="172.07" x2="499.9" y2="172.07" stroke="#000" stroke-width="1.4"/>
<line x1="284" y1="169.27" x2="288" y2="169.27" stroke="#000" stroke-width="1.4"/>
<line x1="503.9" y1="169.27" x2="499.9" y2="169.27" stroke="#000" stroke-width="1.4"/>
<line x1="284" y1="166.85" x2="288" y2="166.85" stroke="#000" stroke-width="1.4"/>
<line x1="503.9" y1="166.85" x2="499.9" y2="166.85" stroke="#000" stroke-width="1.4"/>
<line x1="284" y1="164.71" x2="288" y2="164.71" stroke="#000" stroke-width="1.4"/>
<line x1="503.9" y1="164.71" x2="499.9" y2="164.71" stroke="#000" stroke-width="1.4"/>
<line x1="284" y1="162.8" x2="291" y2="162.8" stroke="#000" stroke-width="1.4"/>
<line x1="503.9" y1="162.8" x2="496.9" y2="162.8" stroke="#000" stroke-width="1.4"/>
<line x1="284" y1="150.22" x2="288" y2="150.22" stroke="#000" stroke-width="1.4"/>
<line x1="503.9" y1="150.22" x2="499.9" y2="150.22" stroke="#000" stroke-width="1.4"/>
<line x1="284" y1="142.86" x2="288" y2="142.86" stroke="#000" stroke-width="1.4"/>
<line x1="503.9" y1="142.86" x2="499.9" y2="142.86" stroke="#000" stroke-width="1.4"/>
<line x1="284" y1="137.63" x2="288" y2="137.63" stroke="#000" stroke-width="1.4"/>
<line x1="503.9" y1="137.63" x2="499.9" y2="137.63" stroke="#000" stroke-width="1.4"/>
<line x1="284" y1="133.58" x2="288" y2="133.58" stroke="#000" stroke-width="1.4"/>
<line x1="503.9" y1="133.58" x2="499.9" y2="133.58" stroke="#000" stroke-width="1.4"/>
<line x1="284" y1="130.27" x2="288" y2="130.27" stroke="#000" stroke-width="1.4"/>
<line x1="503.9" y1="130.27" x2="499.9" y2="130.27" stroke="#000" stroke-width="1.4"/>
<line x1="284" y1="127.47" x2="288" y2="127.47" stroke="#000" stroke-width="1.4"/>
<line x1="503.9" y1="127.47" x2="499.9" y2="127.47" stroke="#000" stroke-width="1.4"/>
<line x1="284" y1="125.05" x2="288" y2="125.05" stroke="#000" stroke-width="1.4"/>
<line x1="503.9" y1="125.05" x2="499.9" y2="125.05" stroke="#000" stroke-width="1.4"/>
<line x1="284" y1="122.91" x2="288" y2="122.91" stroke="#000" stroke-width="1.4"/>
<line x1="503.9" y1="122.91" x2="499.9" y2="122.91" stroke="#000" stroke-width="1.4"/>
<line x1="284" y1="121" x2="291" y2="121" stroke="#000" stroke-width="1.4"/>
<line x1="503.9" y1="121" x2="496.9" y2="121" stroke="#000" stroke-width="1.4"/>
<line x1="284" y1="108.42" x2="288" y2="108.42" stroke="#000" stroke-width="1.4"/>
<line x1="503.9" y1="108.42" x2="499.9" y2="108.42" stroke="#000" stroke-width="1.4"/>
<line x1="284" y1="101.06" x2="288" y2="101.06" stroke="#000" stroke-width="1.4"/>
<line x1="503.9" y1="101.06" x2="499.9" y2="101.06" stroke="#000" stroke-width="1.4"/>
<line x1="284" y1="95.83" x2="288" y2="95.83" stroke="#000" stroke-width="1.4"/>
<line x1="503.9" y1="95.83" x2="499.9" y2="95.83" stroke="#000" stroke-width="1.4"/>
<line x1="284" y1="91.78" x2="288" y2="91.78" stroke="#000" stroke-width="1.4"/>
<line x1="503.9" y1="91.78" x2="499.9" y2="91.78" stroke="#000" stroke-width="1.4"/>
<line x1="284" y1="88.47" x2="288" y2="88.47" stroke="#000" stroke-width="1.4"/>
<line x1="503.9" y1="88.47" x2="499.9" y2="88.47" stroke="#000" stroke-width="1.4"/>
<line x1="284" y1="85.67" x2="288" y2="85.67" stroke="#000" stroke-width="1.4"/>
<line x1="503.9" y1="85.67" x2="499.9" y2="85.67" stroke="#000" stroke-width="1.4"/>
<line x1="284" y1="83.25" x2="288" y2="83.25" stroke="#000" stroke-width="1.4"/>
<line x1="503.9" y1="83.25" x2="499.9" y2="83.25" stroke="#000" stroke-width="1.4"/>
<line x1="284" y1="81.11" x2="288" y2="81.11" stroke="#000" stroke-width="1.4"/>
<line x1="503.9" y1="81.11" x2="499.9" y2="81.11" stroke="#000" stroke-width="1.4"/>
<line x1="284" y1="79.2" x2="291" y2="79.2" stroke="#000" stroke-width="1.4"/>
<line x1="503.9" y1="79.2" x2="496.9" y2="79.2" stroke="#000" stroke-width="1.4"/>
<line x1="284" y1="66.62" x2="288" y2="66.62" stroke="#000" stroke-width="1.4"/>
<line x1="503.9" y1="66.62" x2="499.9" y2="66.62" stroke="#000" stroke-width="1.4"/>
<line x1="284" y1="59.26" x2="288" y2="59.26" stroke="#000" stroke-width="1.4"/>
<line x1="503.9" y1="59.26" x2="499.9" y2="59.26" stroke="#000" stroke-width="1.4"/>
<line x1="284" y1="54.03" x2="288" y2="54.03" stroke="#000" stroke-width="1.4"/>
<line x1="503.9" y1="54.03" x2="499.9" y2="54.03" stroke="#000" stroke-width="1.4"/>
<line x1="284" y1="49.98" x2="288" y2="49.98" stroke="#000" stroke-width="1.4"/>
<line x1="503.9" y1="49.98" x2="499.9" y2="49.98" stroke="#000" stroke-width="1.4"/>
<line x1="284" y1="46.67" x2="288" y2="46.67" stroke="#000" stroke-width="1.4"/>
<line x1="503.9" y1="46.67" x2="499.9" y2="46.67" stroke="#000" stroke-width="1.4"/>
<line x1="284" y1="43.87" x2="288" y2="43.87" stroke="#000" stroke-width="1.4"/>
<line x1="503.9" y1="43.87" x2="499.9" y2="43.87" stroke="#000" stroke-width="1.4"/>
<line x1="284" y1="41.45" x2="288" y2="41.45" stroke="#000" stroke-width="1.4"/>
<line x1="503.9" y1="41.45" x2="499.9" y2="41.45" stroke="#000" stroke-width="1.4"/>
<line x1="284" y1="39.31" x2="288" y2="39.31" stroke="#000" stroke-width="1.4"/>
<line x1="503.9" y1="39.31" x2="499.9" y2="39.31" stroke="#000" stroke-width="1.4"/>
<line x1="284" y1="37.4" x2="291" y2="37.4" stroke="#000" stroke-width="1.4"/>
<line x1="503.9" y1="37.4" x2="496.9" y2="37.4" stroke="#000" stroke-width="1.4"/>
<line x1="284" y1="24.82" x2="288" y2="24.82" stroke="#000" stroke-width="1.4"/>
<line x1="503.9" y1="24.82" x2="499.9" y2="24.82" stroke="#000" stroke-width="1.4"/>
<line x1="284" y1="17.46" x2="288" y2="17.46" stroke="#000" stroke-width="1.4"/>
<line x1="503.9" y1="17.46" x2="499.9" y2="17.46" stroke="#000" stroke-width="1.4"/>
<line x1="284" y1="12.23" x2="288" y2="12.23" stroke="#000" stroke-width="1.4"/>
<line x1="503.9" y1="12.23" x2="499.9" y2="12.23" stroke="#000" stroke-width="1.4"/>
<line x1="284" y1="8.18" x2="288" y2="8.18" stroke="#000" stroke-width="1.4"/>
<line x1="503.9" y1="8.18" x2="499.9" y2="8.18" stroke="#000" stroke-width="1.4"/>
<line x1="284" y1="4.87" x2="288" y2="4.87" stroke="#000" stroke-width="1.4"/>
<line x1="503.9" y1="4.87" x2="499.9" y2="4.87" stroke="#000" stroke-width="1.4"/>
<line x1="284" y1="2.07" x2="288" y2="2.07" stroke="#000" stroke-width="1.4"/>
<line x1="503.9" y1="2.07" x2="499.9" y2="2.07" stroke="#000" stroke-width="1.4"/>
<line x1="82.62" y1="520.7" x2="82.62" y2="516.7" stroke="#000" stroke-width="1.4"/>
<line x1="82.62" y1="300.7" x2="82.62" y2="304.7" stroke="#000" stroke-width="1.4"/>
<line x1="100.94" y1="520.7" x2="100.94" y2="513.7" stroke="#000" stroke-width="1.4"/>
<line x1="100.94" y1="300.7" x2="100.94" y2="307.7" stroke="#000" stroke-width="1.4"/>
<line x1="119.25" y1="520.7" x2="119.25" y2="516.7" stroke="#000" stroke-width="1.4"/>
<line x1="119.25" y1="300.7" x2="119.25" y2="304.7" stroke="#000" stroke-width="1.4"/>
<line x1="137.57" y1="520.7" x2="137.57" y2="513.7" stroke="#000" stroke-width="1.4"/>
<line x1="137.57" y1="300.7" x2="137.57" y2="307.7" stroke="#000" stroke-width="1.4"/>
<line x1="155.89" y1="520.7" x2="155.89" y2="516.7" stroke="#000" stroke-width="1.4"/>
<line x1="155.89" y1="300.7" x2="155.89" y2="304.7" stroke="#000" stroke-width="1.4"/>
<line x1="174.2" y1="520.7" x2="174.2" y2="513.7" stroke="#000" stroke-width="1.4"/>
<line x1="174.2" y1="300.7" x2="174.2" y2="307.7" stroke="#000" stroke-width="1.4"/>
<line x1="192.52" y1="520.7" x2="192.52" y2="516.7" stroke="#000" stroke-width="1.4"/>
<line x1="192.52" y1="300.7" x2="192.52" y2="304.7" stroke="#000" stroke-width="1.4"/>
<line x1="210.84" y1="520.7" x2="210.84" y2="513.7" stroke="#000" stroke-width="1.4"/>
<line x1="210.84" y1="300.7" x2="210.84" y2="307.7" stroke="#000" stroke-width="1.4"/>
<line x1="229.16" y1="520.7" x2="229.16" y2="516.7" stroke="#000" stroke-width="1.4"/>
<line x1="229.16" y1="300.7" x2="229.16" y2="304.7" stroke="#000" stroke-width="1.4"/>
<line x1="247.48" y1="520.7" x2="247.48" y2="513.7" stroke="#000" stroke-width="1.4"/>
<line x1="247.48" y1="300.7" x2="247.48" y2="307.7" stroke="#000" stroke-width="1.4"/>
<line x1="265.79" y1="520.7" x2="265.79" y2="516.7" stroke="#000" stroke-width="1.4"/>
<line x1="265.79" y1="300.7" x2="265.79" y2="304.7" stroke="#000" stroke-width="1.4"/>
<line x1="302.52" y1="520.7" x2="302.52" y2="516.7" stroke="#000" stroke-width="1.4"/>
<line x1="302.52" y1="300.7" x2="302.52" y2="304.7" stroke="#000" stroke-width="1.4"/>
<line x1="320.84" y1="520.7" x2="320.84" y2="513.7" stroke="#000" stroke-width="1.4"/>
<line x1="320.84" y1="300.7" x2="320.84" y2="307.7" stroke="#000" stroke-width="1.4"/>
<line x1="339.15" y1="520.7" x2="339.15" y2="516.7" stroke="#000" stroke-width="1.4"/>
<line x1="339.15" y1="300.7" x2="339.15" y2="304.7" stroke="#000" stroke-width="1.4"/>
<line x1="357.47" y1="520.7" x2="357.47" y2="513.7" stroke="#000" stroke-width="1.4"/>
<line x1="357.47" y1="300.7" x2="357.47" y2="307.7" stroke="#000" stroke-width="1.4"/>
<line x1="375.79" y1="520.7" x2="375.79" y2="516.7" stroke="#000" stroke-width="1.4"/>
<line x1="375.79" y1="300.7" x2="375.79" y2="304.7" stroke="#000" stroke-width="1.4"/>
<line x1="394.11" y1="520.7" x2="394.11" y2="513.7" stroke="#000" stroke-width="1.4"/>
<line x1="394.11" y1="300.7" x2="394.11" y2="307.7" stroke="#000" stroke-width="1.4"/>
<line x1="412.42" y1="520.7" x2="412.42" y2="516.7" stroke="#000" stroke-width="1.4"/>
<line x1="412.42" y1="300.7" x2="412.42" y2="304.7" stroke="#000" stroke-width="1.4"/>
<line x1="430.74" y1="520.7" x2="430.74" y2="513.7" stroke="#000" stroke-width="1.4"/>
<line x1="430.74" y1="300.7" x2="430.74" y2="307.7" stroke="#000" stroke-width="1.4"/>
<line x1="449.06" y1="520.7" x2="449.06" y2="516.7" stroke="#000" stroke-width="1.4"/>
<line x1="449.06" y1="300.7" x2="449.06" y2="304.7" stroke="#000" stroke-width="1.4"/>
<line x1="467.38" y1="520.7" x2="467.38" y2="513.7" stroke="#000" stroke-width="1.4"/>
<line x1="467.38" y1="300.7" x2="467.38" y2="307.7" stroke="#000" stroke-width="1.4"/>
<line x1="485.69" y1="520.7" x2="485.69" y2="516.7" stroke="#000" stroke-width="1.4"/>
<line x1="485.69" y1="300.7" x2="485.69" y2="304.7" stroke="#000" stroke-width="1.4"/>
<line x1="64" y1="510.23" x2="68" y2="510.23" stroke="#000" stroke-width="1.4"/>
<line x1="284" y1="510.23" x2="280" y2="510.23" stroke="#000" stroke-width="1.4"/>
<line x1="64" y1="499.76" x2="71" y2="499.76" stroke="#000" stroke-width="1.4"/>
<line x1="284" y1="499.76" x2="277" y2="499.76" stroke="#000" stroke-width="1.4"/>
<line x1="64" y1="489.29" x2="68" y2="489.29" stroke="#000" stroke-width="1.4"/>
<line x1="284" y1="489.29" x2="280" y2="489.29" stroke="#000" stroke-width="1.4"/>
<line x1="64" y1="478.82" x2="71" y2="478.82" stroke="#000" stroke-width="1.4"/>
<line x1="284" y1="478.82" x2="277" y2="478.82" stroke="#000" stroke-width="1.4"/>
<line x1="64" y1="468.35" x2="68" y2="468.35" stroke="#000" stroke-width="1.4"/>
<line x1="284" y1="468.35" x2="280" y2="468.35" stroke="#000" stroke-width="1.4"/>
<line x1="64" y1="457.88" x2="71" y2="457.88" stroke="#000" stroke-width="1.4"/>
<line x1="284" y1="457.88" x2="277" y2="457.88" stroke="#000" stroke-width="1.4"/>
<line x1="64" y1="447.41" x2="68" y2="447.41" stroke="#000" stroke-width="1.4"/>
<line x1="284" y1="447.41" x2="280" y2="447.41" stroke="#000" stroke-width="1.4"/>
<line x1="64" y1="436.94" x2="71" y2="436.94" stroke="#000" stroke-width="1.4"/>
<line x1="284" y1="436.94" x2="277" y2="436.94" stroke="#000" stroke-width="1.4"/>
<line x1="64" y1="426.47" x2="68" y2="426.47" stroke="#000" stroke-width="1.4"/>
<line x1="284" y1="426.47" x2="280" y2="426.47" stroke="#000" stroke-width="1.4"/>
<line x1="64" y1="416" x2="71" y2="416" stroke="#000" stroke-width="1.4"/>
<line x1="284" y1="416" x2="277" y2="416" stroke="#000" stroke-width="1.4"/>
<line x1="64" y1="405.53" x2="68" y2="405.53" stroke="#000" stroke-width="1.4"/>
<line x1="284" y1="405.53" x2="280" y2="405.53" stroke="#000" stroke-width="1.4"/>
<line x1="64" y1="395.06" x2="71" y2="395.06" stroke="#000" stroke-width="1.4"/>
<line x1="284" y1="395.06" x2="277" y2="395.06" stroke="#000" stroke-width="1.4"/>
<line x1="64" y1="384.59" x2="68" y2="384.59" stroke="#000" stroke-width="1.4"/>
<line x1="284" y1="384.59" x2="280" y2="384.59" stroke="#000" stroke-width="1.4"/>
<line x1="64" y1="374.12" x2="71" y2="374.12" stroke="#000" stroke-width="1.4"/>
<line x1="284" y1="374.12" x2="277" y2="374.12" stroke="#000" stroke-width="1.4"/>
<line x1="64" y1="363.65" x2="68" y2="363.65" stroke="#000" stroke-width="1.4"/>
<line x1="284" y1="363.65" x2="280" y2="363.65" stroke="#000" stroke-width="1.4"/>
<line x1="64" y1="353.18" x2="71" y2="353.18" stroke="#000" stroke-width="1.4"/>
<line x1="284" y1="353.18" x2="277" y2="353.18" stroke="#000" stroke-width="1.4"/>
<line x1="64" y1="342.71" x2="68" y2="342.71" stroke="#000" stroke-width="1.4"/>
<line x1="284" y1="342.71" x2="280" y2="342.71" stroke="#000" stroke-width="1.4"/>
<line x1="64" y1="332.24" x2="71" y2="332.24" stroke="#000" stroke-width="1.4"/>
<line x1="284" y1="332.24" x2="277" y2="332.24" stroke="#000" stroke-width="1.4"/>
<line x1="64" y1="321.77" x2="68" y2="321.77" stroke="#000" stroke-width="1.4"/>
<line x1="284" y1="321.77" x2="280" y2="321.77" stroke="#000" stroke-width="1.4"/>
<line x1="64" y1="311.3" x2="71" y2="311.3" stroke="#000" stroke-width="1.4"/>
<line x1="284" y1="311.3" x2="277" y2="311.3" stroke="#000" stroke-width="1.4"/>
<line x1="284" y1="510.23" x2="288" y2="510.23" stroke="#000" stroke-width="1.4"/>
<line x1="503.9" y1="510.23" x2="499.9" y2="510.23" stroke="#000" stroke-width="1.4"/>
<line x1="284" y1="499.76" x2="291" y2="499.76" stroke="#000" stroke-width="1.4"/>
<line x1="503.9" y1="499.76" x2="496.9" y2="499.76" stroke="#000" stroke-width="1.4"/>
<line x1="284" y1="489.29" x2="288" y2="489.29" stroke="#000" stroke-width="1.4"/>
<line x1="503.9" y1="489.29" x2="499.9" y2="489.29" stroke="#000" stroke-width="1.4"/>
<line x1="284" y1="478.82" x2="291" y2="478.82" stroke="#000" stroke-width="1.4"/>
<line x1="503.9" y1="478.82" x2="496.9" y2="478.82" stroke="#000" stroke-width="1.4"/>
<line x1="284" y1="468.35" x2="288" y2="468.35" stroke="#000" stroke-width="1.4"/>
<line x1="503.9" y1="468.35" x2="499.9" y2="468.35" stroke="#000" stroke-width="1.4"/>
<line x1="284" y1="457.88" x2="291" y2="457.88" stroke="#000" stroke-width="1.4"/>
<line x1="503.9" y1="457.88" x2="496.9" y2="457.88" stroke="#000" stroke-width="1.4"/>
<line x1="284" y1="447.41" x2="288" y2="447.41" stroke="#000" stroke-width="1.4"/>
<line x1="503.9" y1="447.41" x2="499.9" y2="447.41" stroke="#000" stroke-width="1.4"/>
<line x1="284" y1="436.94" x2="291" y2="436.94" stroke="#000" stroke-width="1.4"/>
<line x1="503.9" y1="436.94" x2="496.9" y2="436.94" stroke="#000" stroke-width="1.4"/>
<line x1="284" y1="426.47" x2="288" y2="426.47" stroke="#000" stroke-width="1.4"/>
<line x1="503.9" y1="426.47" x2="499.9" y2="426.47" stroke="#000" stroke-width="1.4"/>
<line x1="284" y1="416" x2="291" y2="416" stroke="#000" stroke-width="1.4"/>
<line x1="503.9" y1="416" x2="496.9" y2="416" stroke="#000" stroke-width="1.4"/>
<line x1="284" y1="405.53" x2="288" y2="405.53" stroke="#000" stroke-width="1.4"/>
<line x1="503.9" y1="405.53" x2="499.9" y2="405.53" stroke="#000" stroke-width="1.4"/>
<line x1="284" y1="395.06" x2="291" y2="395.06" stroke="#000" stroke-width="1.4"/>
<line x1="503.9" y1="395.06" x2="496.9" y2="395.06" stroke="#000" stroke-width="1.4"/>
<line x1="284" y1="384.59" x2="288" y2="384.59" stroke="#000" stroke-width="1.4"/>
<line x1="503.9" y1="384.59" x2="499.9" y2="384.59" stroke="#000" stroke-width="1.4"/>
<line x1="284" y1="374.12" x2="291" y2="374.12" stroke="#000" stroke-width="1.4"/>
<line x1="503.9" y1="374.12" x2="496.9" y2="374.12" stroke="#000" stroke-width="1.4"/>
<line x1="284" y1="363.65" x2="288" y2="363.65" stroke="#000" stroke-width="1.4"/>
<line x1="503.9" y1="363.65" x2="499.9" y2="363.65" stroke="#000" stroke-width="1.4"/>
<line x1="284" y1="353.18" x2="291" y2="353.18" stroke="#000" stroke-width="1.4"/>
<line x1="503.9" y1="353.18" x2="496.9" y2="353.18" stroke="#000" stroke-width="1.4"/>
<line x1="284" y1="342.71" x2="288" y2="342.71" stroke="#000" stroke-width="1.4"/>
<line x1="503.9" y1="342.71" x2="499.9" y2="342.71" stroke="#000" stroke-width="1.4"/>
<line x1="284" y1="332.24" x2="291" y2="332.24" stroke="#000" stroke-width="1.4"/>
<line x1="503.9" y1="332.24" x2="496.9" y2="332.24" stroke="#000" stroke-width="1.4"/>
<line x1="284" y1="321.77" x2="288" y2="321.77" stroke="#000" stroke-width="1.4"/>
<line x1="503.9" y1="321.77" x2="499.9" y2="321.77" stroke="#000" stroke-width="1.4"/>
<line x1="284" y1="311.3" x2="291" y2="311.3" stroke="#000" stroke-width="1.4"/>
<line x1="503.9" y1="311.3" x2="496.9" y2="311.3" stroke="#000" stroke-width="1.4"/>
<rect x="410.2" y="337.4" width="73.3" height="72.7" fill="#fff"/>
<g clip-path="url(#ci)">
<circle cx="412.77" cy="346.27" r="6.4" fill="#000"/>
<circle cx="417.9" cy="350.88" r="6.4" fill="#000"/>
<circle cx="446.63" cy="374.24" r="6.4" fill="#000"/>
<circle cx="482.4" cy="403.19" r="6.4" fill="#000"/>
<line x1="410.2" y1="345.1" x2="483.5" y2="401.5" stroke="#b8141e" stroke-width="2.4"/>
</g>
<line x1="428.52" y1="410.1" x2="428.52" y2="406.1" stroke="#000" stroke-width="1.4"/>
<line x1="428.52" y1="337.4" x2="428.52" y2="341.4" stroke="#000" stroke-width="1.4"/>
<line x1="446.85" y1="410.1" x2="446.85" y2="403.1" stroke="#000" stroke-width="1.4"/>
<line x1="446.85" y1="337.4" x2="446.85" y2="344.4" stroke="#000" stroke-width="1.4"/>
<line x1="465.17" y1="410.1" x2="465.17" y2="406.1" stroke="#000" stroke-width="1.4"/>
<line x1="465.17" y1="337.4" x2="465.17" y2="341.4" stroke="#000" stroke-width="1.4"/>
<line x1="410.2" y1="401.88" x2="414.2" y2="401.88" stroke="#000" stroke-width="1.4"/>
<line x1="483.5" y1="401.88" x2="479.5" y2="401.88" stroke="#000" stroke-width="1.4"/>
<line x1="410.2" y1="393.65" x2="417.2" y2="393.65" stroke="#000" stroke-width="1.4"/>
<line x1="483.5" y1="393.65" x2="476.5" y2="393.65" stroke="#000" stroke-width="1.4"/>
<line x1="410.2" y1="385.43" x2="414.2" y2="385.43" stroke="#000" stroke-width="1.4"/>
<line x1="483.5" y1="385.43" x2="479.5" y2="385.43" stroke="#000" stroke-width="1.4"/>
<line x1="410.2" y1="377.2" x2="417.2" y2="377.2" stroke="#000" stroke-width="1.4"/>
<line x1="483.5" y1="377.2" x2="476.5" y2="377.2" stroke="#000" stroke-width="1.4"/>
<line x1="410.2" y1="368.98" x2="414.2" y2="368.98" stroke="#000" stroke-width="1.4"/>
<line x1="483.5" y1="368.98" x2="479.5" y2="368.98" stroke="#000" stroke-width="1.4"/>
<line x1="410.2" y1="360.75" x2="417.2" y2="360.75" stroke="#000" stroke-width="1.4"/>
<line x1="483.5" y1="360.75" x2="476.5" y2="360.75" stroke="#000" stroke-width="1.4"/>
<line x1="410.2" y1="352.53" x2="414.2" y2="352.53" stroke="#000" stroke-width="1.4"/>
<line x1="483.5" y1="352.53" x2="479.5" y2="352.53" stroke="#000" stroke-width="1.4"/>
<line x1="410.2" y1="344.3" x2="417.2" y2="344.3" stroke="#000" stroke-width="1.4"/>
<line x1="483.5" y1="344.3" x2="476.5" y2="344.3" stroke="#000" stroke-width="1.4"/>
<rect x="410.2" y="337.4" width="73.3" height="72.7" fill="none" stroke="#000" stroke-width="1.4"/>
<text x="82.6" y="245.3" font-size="20" text-anchor="middle">38&#176;</text>
<text x="129.38" y="245.3" font-size="20" text-anchor="middle">39&#176;</text>
<text x="176.16" y="245.3" font-size="20" text-anchor="middle">40&#176;</text>
<text x="222.94" y="245.3" font-size="20" text-anchor="middle">41&#176;</text>
<text x="269.72" y="245.3" font-size="20" text-anchor="middle">42&#176;</text>
<text x="302.6" y="245.3" font-size="20" text-anchor="middle">38&#176;</text>
<text x="349.38" y="245.3" font-size="20" text-anchor="middle">39&#176;</text>
<text x="396.16" y="245.3" font-size="20" text-anchor="middle">40&#176;</text>
<text x="442.94" y="245.3" font-size="20" text-anchor="middle">41&#176;</text>
<text x="489.72" y="245.3" font-size="20" text-anchor="middle">42&#176;</text>
<text x="54.6" y="212.6" font-size="20" text-anchor="end">10<tspan font-size="13.4" dy="-8.9">0</tspan></text>
<text x="54.6" y="170.8" font-size="20" text-anchor="end">10<tspan font-size="13.4" dy="-8.9">1</tspan></text>
<text x="54.6" y="129" font-size="20" text-anchor="end">10<tspan font-size="13.4" dy="-8.9">2</tspan></text>
<text x="54.6" y="87.2" font-size="20" text-anchor="end">10<tspan font-size="13.4" dy="-8.9">3</tspan></text>
<text x="54.6" y="45.4" font-size="20" text-anchor="end">10<tspan font-size="13.4" dy="-8.9">4</tspan></text>
<text x="64.3" y="545.5" font-size="20" text-anchor="middle">0</text>
<text x="100.94" y="545.5" font-size="20" text-anchor="middle">50</text>
<text x="137.57" y="545.5" font-size="20" text-anchor="middle">100</text>
<text x="174.2" y="545.5" font-size="20" text-anchor="middle">150</text>
<text x="210.84" y="545.5" font-size="20" text-anchor="middle">200</text>
<text x="247.48" y="545.5" font-size="20" text-anchor="middle">250</text>
<text x="284.2" y="545.5" font-size="20" text-anchor="middle">0</text>
<text x="320.84" y="545.5" font-size="20" text-anchor="middle">50</text>
<text x="357.47" y="545.5" font-size="20" text-anchor="middle">100</text>
<text x="394.11" y="545.5" font-size="20" text-anchor="middle">150</text>
<text x="430.74" y="545.5" font-size="20" text-anchor="middle">200</text>
<text x="467.38" y="545.5" font-size="20" text-anchor="middle">250</text>
<text x="504.01" y="545.5" font-size="20" text-anchor="middle">300</text>
<text x="56" y="527.85" font-size="20" text-anchor="end">0</text>
<text x="56" y="506.91" font-size="20" text-anchor="end">2</text>
<text x="56" y="485.97" font-size="20" text-anchor="end">4</text>
<text x="56" y="465.03" font-size="20" text-anchor="end">6</text>
<text x="56" y="444.09" font-size="20" text-anchor="end">8</text>
<text x="56" y="423.15" font-size="20" text-anchor="end">10</text>
<text x="56" y="402.21" font-size="20" text-anchor="end">12</text>
<text x="56" y="381.27" font-size="20" text-anchor="end">14</text>
<text x="56" y="360.33" font-size="20" text-anchor="end">16</text>
<text x="56" y="339.39" font-size="20" text-anchor="end">18</text>
<text x="56" y="318.45" font-size="20" text-anchor="end">20</text>
<text transform="translate(174.9,278.4) scale(1.06,1)" font-size="22.5" text-anchor="middle">2<tspan font-family="Liberation Serif, serif" font-style="italic" font-size="24" dx="1">&#952;</tspan></text>
<text transform="translate(394.9,278.4) scale(1.06,1)" font-size="22.5" text-anchor="middle">2<tspan font-family="Liberation Serif, serif" font-style="italic" font-size="24" dx="1">&#952;</tspan></text>
<text x="175.4" y="579.2" font-size="23.4" text-anchor="middle"><tspan font-style="italic">T</tspan> (K)</text>
<text x="395.4" y="579.2" font-size="23.4" text-anchor="middle"><tspan font-style="italic">T</tspan> (K)</text>
<text transform="translate(17.4,110.7) rotate(-90) scale(1.055,1)" font-size="22.5" text-anchor="middle"><tspan font-style="italic">I</tspan> (cps)</text>
<text transform="translate(19.3,410) rotate(-90) scale(1.072,1)" font-size="22.5" text-anchor="middle"><tspan font-style="italic">M</tspan> (kA/m)</text>
<text x="71.5" y="28" font-size="20.4" text-anchor="start">(a) thin <tspan font-family="Liberation Serif, serif" font-size="22.5">&#945;</tspan>-Fe<tspan font-size="14.5" dy="4.3">2</tspan><tspan dy="-4.3">O</tspan><tspan font-size="14.5" dy="4.3">3</tspan></text>
<text x="291.5" y="28" font-size="20.4" text-anchor="start">(b) thick <tspan font-family="Liberation Serif, serif" font-size="22.5">&#945;</tspan>-Fe<tspan font-size="14.5" dy="4.3">2</tspan><tspan dy="-4.3">O</tspan><tspan font-size="14.5" dy="4.3">3</tspan></text>
<text x="72.6" y="328" font-size="20.4" text-anchor="start">(c) thin <tspan font-family="Liberation Serif, serif" font-size="22.5">&#945;</tspan>-Fe<tspan font-size="14.5" dy="4.3">2</tspan><tspan dy="-4.3">O</tspan><tspan font-size="14.5" dy="4.3">3</tspan></text>
<text x="292.6" y="328" font-size="20.4" text-anchor="start">(d) thick <tspan font-family="Liberation Serif, serif" font-size="22.5">&#945;</tspan>-Fe<tspan font-size="14.5" dy="4.3">2</tspan><tspan dy="-4.3">O</tspan><tspan font-size="14.5" dy="4.3">3</tspan></text>
<text transform="translate(147.6,155.4) rotate(-90)" font-size="20">Fe<tspan font-size="14" dy="5.5">2</tspan><tspan dy="-5.5">O</tspan><tspan font-size="14" dy="5.5">3</tspan><tspan dy="-5.5"> (0006)</tspan></text>
<text transform="translate(245.6,149.2) rotate(-90)" font-size="20">Al<tspan font-size="14" dy="5.5">2</tspan><tspan dy="-5.5">O</tspan><tspan font-size="14" dy="5.5">3</tspan><tspan dy="-5.5"> (0006)</tspan></text>
<text transform="translate(351.6,154.9) rotate(-90)" font-size="20">Fe<tspan font-size="14" dy="5.5">2</tspan><tspan dy="-5.5">O</tspan><tspan font-size="14" dy="5.5">3</tspan><tspan dy="-5.5"> (0006)</tspan></text>
<text transform="translate(466.6,147.8) rotate(-90)" font-size="20">Al<tspan font-size="14" dy="5.5">2</tspan><tspan dy="-5.5">O</tspan><tspan font-size="14" dy="5.5">3</tspan><tspan dy="-5.5"> (0006)</tspan></text>
<text x="405.6" y="415.3" font-size="15.2" text-anchor="end">185</text>
<text x="405.6" y="398.85" font-size="15.2" text-anchor="end">190</text>
<text x="405.6" y="382.4" font-size="15.2" text-anchor="end">195</text>
<text x="405.6" y="365.95" font-size="15.2" text-anchor="end">200</text>
<text x="405.6" y="349.5" font-size="15.2" text-anchor="end">205</text>
<text x="410.5" y="431.2" font-size="15.2" text-anchor="middle">0.0</text>
<text x="447.15" y="431.2" font-size="15.2" text-anchor="middle">0.5</text>
<text x="483.8" y="431.2" font-size="15.2" text-anchor="middle">1.0</text>
<text x="446.8" y="450" font-size="17.5" text-anchor="middle"><tspan font-style="italic">&#956;</tspan><tspan font-size="13" dy="4">0</tspan><tspan font-style="italic" dy="-4">H</tspan> (T)</text>
<text transform="translate(371.8,373.2) rotate(-90)" font-size="17" text-anchor="middle"><tspan font-style="italic">T</tspan><tspan font-size="12" dy="4.5">M</tspan><tspan dy="-4.5"> (K)</tspan></text>
</svg>
</body></html>
